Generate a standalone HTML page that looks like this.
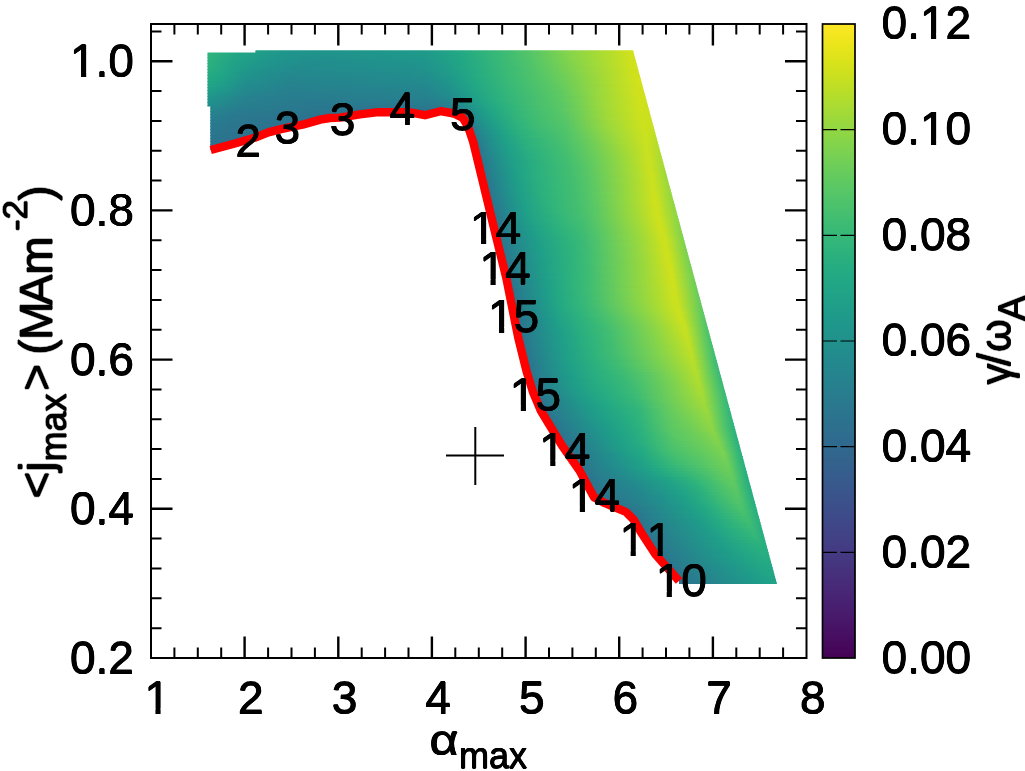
<!DOCTYPE html>
<html><head><meta charset="utf-8"><title>plot</title><style>html,body{margin:0;padding:0;background:#fff}svg{display:block}</style></head><body><svg width="1025" height="771" viewBox="0 0 1025 771">
<defs><linearGradient id="g0" gradientUnits="userSpaceOnUse" x1="251" x2="638" y1="0" y2="0"><stop offset="0.000" stop-color="#1fa187"/><stop offset="0.140" stop-color="#1f948c"/><stop offset="0.442" stop-color="#1e9b8a"/><stop offset="0.543" stop-color="#24aa83"/><stop offset="0.636" stop-color="#38b977"/><stop offset="0.698" stop-color="#4cc26c"/><stop offset="0.744" stop-color="#60ca60"/><stop offset="0.814" stop-color="#84d44b"/><stop offset="0.860" stop-color="#98d83e"/><stop offset="0.930" stop-color="#b8de29"/><stop offset="0.984" stop-color="#d5e21a"/><stop offset="1.000" stop-color="#d2e21b"/></linearGradient><linearGradient id="g1" gradientUnits="userSpaceOnUse" x1="203" x2="638" y1="0" y2="0"><stop offset="0.000" stop-color="#34b679"/><stop offset="0.076" stop-color="#21a685"/><stop offset="0.200" stop-color="#1f948c"/><stop offset="0.352" stop-color="#1f948c"/><stop offset="0.510" stop-color="#1f9a8a"/><stop offset="0.593" stop-color="#23a983"/><stop offset="0.690" stop-color="#3bbb75"/><stop offset="0.766" stop-color="#5ac864"/><stop offset="0.828" stop-color="#7fd34e"/><stop offset="0.945" stop-color="#bade28"/><stop offset="0.986" stop-color="#d2e21b"/><stop offset="1.000" stop-color="#d0e11c"/></linearGradient><linearGradient id="g2" gradientUnits="userSpaceOnUse" x1="203" x2="639" y1="0" y2="0"><stop offset="0.000" stop-color="#32b67a"/><stop offset="0.076" stop-color="#21a585"/><stop offset="0.158" stop-color="#1f978b"/><stop offset="0.255" stop-color="#21918c"/><stop offset="0.516" stop-color="#1f998a"/><stop offset="0.592" stop-color="#22a884"/><stop offset="0.681" stop-color="#38b977"/><stop offset="0.757" stop-color="#56c667"/><stop offset="0.853" stop-color="#8bd646"/><stop offset="0.915" stop-color="#aadc32"/><stop offset="0.984" stop-color="#d2e21b"/><stop offset="0.998" stop-color="#d0e11c"/></linearGradient><linearGradient id="g3" gradientUnits="userSpaceOnUse" x1="203" x2="640" y1="0" y2="0"><stop offset="0.000" stop-color="#31b57b"/><stop offset="0.076" stop-color="#20a386"/><stop offset="0.172" stop-color="#1f948c"/><stop offset="0.247" stop-color="#218f8d"/><stop offset="0.508" stop-color="#1f978b"/><stop offset="0.590" stop-color="#22a785"/><stop offset="0.666" stop-color="#34b679"/><stop offset="0.741" stop-color="#4ec36b"/><stop offset="0.789" stop-color="#67cc5c"/><stop offset="0.844" stop-color="#86d549"/><stop offset="0.941" stop-color="#b8de29"/><stop offset="0.982" stop-color="#d0e11c"/><stop offset="0.995" stop-color="#d0e11c"/></linearGradient><linearGradient id="g4" gradientUnits="userSpaceOnUse" x1="203" x2="641" y1="0" y2="0"><stop offset="0.000" stop-color="#2fb47c"/><stop offset="0.068" stop-color="#20a386"/><stop offset="0.151" stop-color="#1f948c"/><stop offset="0.253" stop-color="#218e8d"/><stop offset="0.507" stop-color="#1f958b"/><stop offset="0.589" stop-color="#21a685"/><stop offset="0.678" stop-color="#37b878"/><stop offset="0.747" stop-color="#50c46a"/><stop offset="0.795" stop-color="#69cd5b"/><stop offset="0.856" stop-color="#8bd646"/><stop offset="0.925" stop-color="#b0dd2f"/><stop offset="0.966" stop-color="#c8e020"/><stop offset="0.979" stop-color="#d0e11c"/><stop offset="1.000" stop-color="#d0e11c"/></linearGradient><linearGradient id="g5" gradientUnits="userSpaceOnUse" x1="203" x2="642" y1="0" y2="0"><stop offset="0.000" stop-color="#2eb37c"/><stop offset="0.075" stop-color="#1fa088"/><stop offset="0.164" stop-color="#20928c"/><stop offset="0.253" stop-color="#228c8d"/><stop offset="0.513" stop-color="#1f948c"/><stop offset="0.588" stop-color="#21a585"/><stop offset="0.663" stop-color="#32b67a"/><stop offset="0.738" stop-color="#4cc26c"/><stop offset="0.793" stop-color="#67cc5c"/><stop offset="0.895" stop-color="#a0da39"/><stop offset="0.977" stop-color="#d0e11c"/><stop offset="0.984" stop-color="#d2e21b"/><stop offset="0.998" stop-color="#d0e11c"/></linearGradient><linearGradient id="g6" gradientUnits="userSpaceOnUse" x1="203" x2="643" y1="0" y2="0"><stop offset="0.000" stop-color="#2cb17e"/><stop offset="0.048" stop-color="#22a785"/><stop offset="0.102" stop-color="#1f988b"/><stop offset="0.205" stop-color="#228c8d"/><stop offset="0.484" stop-color="#21918c"/><stop offset="0.545" stop-color="#1f9a8a"/><stop offset="0.607" stop-color="#24aa83"/><stop offset="0.716" stop-color="#42be71"/><stop offset="0.777" stop-color="#5ec962"/><stop offset="0.900" stop-color="#a2da37"/><stop offset="0.982" stop-color="#d2e21b"/><stop offset="0.995" stop-color="#d0e11c"/></linearGradient><linearGradient id="g7" gradientUnits="userSpaceOnUse" x1="203" x2="643" y1="0" y2="0"><stop offset="0.000" stop-color="#2ab07f"/><stop offset="0.048" stop-color="#21a585"/><stop offset="0.109" stop-color="#1f948c"/><stop offset="0.225" stop-color="#23898e"/><stop offset="0.505" stop-color="#21918c"/><stop offset="0.573" stop-color="#1fa088"/><stop offset="0.634" stop-color="#29af7f"/><stop offset="0.723" stop-color="#44bf70"/><stop offset="0.777" stop-color="#5cc863"/><stop offset="0.866" stop-color="#8ed645"/><stop offset="0.961" stop-color="#c5e021"/><stop offset="0.982" stop-color="#d0e11c"/><stop offset="0.995" stop-color="#d0e11c"/></linearGradient><linearGradient id="g8" gradientUnits="userSpaceOnUse" x1="203" x2="644" y1="0" y2="0"><stop offset="0.000" stop-color="#28ae80"/><stop offset="0.041" stop-color="#21a685"/><stop offset="0.095" stop-color="#1f958b"/><stop offset="0.190" stop-color="#23898e"/><stop offset="0.395" stop-color="#228b8d"/><stop offset="0.517" stop-color="#21918c"/><stop offset="0.592" stop-color="#20a486"/><stop offset="0.680" stop-color="#37b878"/><stop offset="0.762" stop-color="#54c568"/><stop offset="0.816" stop-color="#70cf57"/><stop offset="0.973" stop-color="#cde11d"/><stop offset="1.000" stop-color="#d0e11c"/></linearGradient><linearGradient id="g9" gradientUnits="userSpaceOnUse" x1="203" x2="645" y1="0" y2="0"><stop offset="0.000" stop-color="#26ad81"/><stop offset="0.041" stop-color="#20a486"/><stop offset="0.102" stop-color="#20928c"/><stop offset="0.197" stop-color="#24878e"/><stop offset="0.428" stop-color="#238a8d"/><stop offset="0.509" stop-color="#218f8d"/><stop offset="0.570" stop-color="#1e9d89"/><stop offset="0.624" stop-color="#26ad81"/><stop offset="0.733" stop-color="#48c16e"/><stop offset="0.808" stop-color="#69cd5b"/><stop offset="0.937" stop-color="#b8de29"/><stop offset="0.977" stop-color="#d0e11c"/><stop offset="0.998" stop-color="#d0e11c"/></linearGradient><linearGradient id="g10" gradientUnits="userSpaceOnUse" x1="203" x2="646" y1="0" y2="0"><stop offset="0.000" stop-color="#25ab82"/><stop offset="0.041" stop-color="#1fa287"/><stop offset="0.095" stop-color="#21918c"/><stop offset="0.196" stop-color="#25858e"/><stop offset="0.501" stop-color="#228c8d"/><stop offset="0.555" stop-color="#1f978b"/><stop offset="0.609" stop-color="#22a884"/><stop offset="0.698" stop-color="#3bbb75"/><stop offset="0.779" stop-color="#5ac864"/><stop offset="0.833" stop-color="#77d153"/><stop offset="0.948" stop-color="#c0df25"/><stop offset="0.982" stop-color="#d2e21b"/><stop offset="0.995" stop-color="#d0e11c"/></linearGradient><linearGradient id="g11" gradientUnits="userSpaceOnUse" x1="203" x2="647" y1="0" y2="0"><stop offset="0.000" stop-color="#23a983"/><stop offset="0.041" stop-color="#1fa088"/><stop offset="0.101" stop-color="#228d8d"/><stop offset="0.209" stop-color="#25838e"/><stop offset="0.500" stop-color="#238a8d"/><stop offset="0.554" stop-color="#1f958b"/><stop offset="0.608" stop-color="#22a785"/><stop offset="0.703" stop-color="#3dbc74"/><stop offset="0.777" stop-color="#58c765"/><stop offset="0.831" stop-color="#75d054"/><stop offset="0.912" stop-color="#aadc32"/><stop offset="0.980" stop-color="#d2e21b"/><stop offset="1.000" stop-color="#d0e11c"/></linearGradient><linearGradient id="g12" gradientUnits="userSpaceOnUse" x1="203" x2="647" y1="0" y2="0"><stop offset="0.000" stop-color="#21a685"/><stop offset="0.041" stop-color="#1f9e89"/><stop offset="0.101" stop-color="#228b8d"/><stop offset="0.209" stop-color="#26828e"/><stop offset="0.500" stop-color="#23888e"/><stop offset="0.554" stop-color="#20938c"/><stop offset="0.608" stop-color="#21a685"/><stop offset="0.696" stop-color="#3aba76"/><stop offset="0.770" stop-color="#54c568"/><stop offset="0.811" stop-color="#67cc5c"/><stop offset="0.939" stop-color="#bade28"/><stop offset="0.980" stop-color="#d0e11c"/><stop offset="1.000" stop-color="#cde11d"/></linearGradient><linearGradient id="g13" gradientUnits="userSpaceOnUse" x1="203" x2="648" y1="0" y2="0"><stop offset="0.000" stop-color="#20a386"/><stop offset="0.047" stop-color="#1f998a"/><stop offset="0.088" stop-color="#228b8d"/><stop offset="0.189" stop-color="#26818e"/><stop offset="0.499" stop-color="#24868e"/><stop offset="0.553" stop-color="#20928c"/><stop offset="0.600" stop-color="#1fa287"/><stop offset="0.674" stop-color="#32b67a"/><stop offset="0.789" stop-color="#5ac864"/><stop offset="0.849" stop-color="#7fd34e"/><stop offset="0.897" stop-color="#a0da39"/><stop offset="0.971" stop-color="#cde11d"/><stop offset="0.984" stop-color="#d0e11c"/><stop offset="0.998" stop-color="#cde11d"/></linearGradient><linearGradient id="g14" gradientUnits="userSpaceOnUse" x1="203" x2="649" y1="0" y2="0"><stop offset="0.000" stop-color="#1fa088"/><stop offset="0.040" stop-color="#1f988b"/><stop offset="0.094" stop-color="#24878e"/><stop offset="0.202" stop-color="#277f8e"/><stop offset="0.498" stop-color="#25848e"/><stop offset="0.552" stop-color="#218f8d"/><stop offset="0.605" stop-color="#20a386"/><stop offset="0.686" stop-color="#35b779"/><stop offset="0.800" stop-color="#5ec962"/><stop offset="0.881" stop-color="#95d840"/><stop offset="0.942" stop-color="#bddf26"/><stop offset="0.975" stop-color="#d0e11c"/><stop offset="0.996" stop-color="#cde11d"/></linearGradient><linearGradient id="g15" gradientUnits="userSpaceOnUse" x1="203" x2="650" y1="0" y2="0"><stop offset="0.000" stop-color="#1e9d89"/><stop offset="0.060" stop-color="#218e8d"/><stop offset="0.114" stop-color="#26828e"/><stop offset="0.221" stop-color="#287d8e"/><stop offset="0.503" stop-color="#25838e"/><stop offset="0.557" stop-color="#218f8d"/><stop offset="0.604" stop-color="#1fa187"/><stop offset="0.671" stop-color="#2fb47c"/><stop offset="0.792" stop-color="#5ac864"/><stop offset="0.839" stop-color="#77d153"/><stop offset="0.879" stop-color="#95d840"/><stop offset="0.973" stop-color="#d0e11c"/><stop offset="1.000" stop-color="#cde11d"/></linearGradient><linearGradient id="g16" gradientUnits="userSpaceOnUse" x1="203" x2="651" y1="0" y2="0"><stop offset="0.000" stop-color="#1f998a"/><stop offset="0.094" stop-color="#26828e"/><stop offset="0.208" stop-color="#287c8e"/><stop offset="0.496" stop-color="#26818e"/><stop offset="0.549" stop-color="#238a8d"/><stop offset="0.603" stop-color="#1fa088"/><stop offset="0.656" stop-color="#2ab07f"/><stop offset="0.777" stop-color="#54c568"/><stop offset="0.817" stop-color="#67cc5c"/><stop offset="0.897" stop-color="#a2da37"/><stop offset="0.964" stop-color="#cae11f"/><stop offset="0.978" stop-color="#d0e11c"/><stop offset="0.998" stop-color="#cde11d"/></linearGradient><linearGradient id="g17" gradientUnits="userSpaceOnUse" x1="203" x2="651" y1="0" y2="0"><stop offset="0.000" stop-color="#1f958b"/><stop offset="0.094" stop-color="#26818e"/><stop offset="0.221" stop-color="#297a8e"/><stop offset="0.502" stop-color="#277f8e"/><stop offset="0.549" stop-color="#24868e"/><stop offset="0.609" stop-color="#1fa088"/><stop offset="0.663" stop-color="#2cb17e"/><stop offset="0.790" stop-color="#58c765"/><stop offset="0.830" stop-color="#70cf57"/><stop offset="0.884" stop-color="#98d83e"/><stop offset="0.904" stop-color="#a5db36"/><stop offset="0.971" stop-color="#cde11d"/><stop offset="0.978" stop-color="#d0e11c"/><stop offset="0.998" stop-color="#cae11f"/></linearGradient><linearGradient id="g18" gradientUnits="userSpaceOnUse" x1="203" x2="652" y1="0" y2="0"><stop offset="0.000" stop-color="#20928c"/><stop offset="0.100" stop-color="#277e8e"/><stop offset="0.234" stop-color="#29798e"/><stop offset="0.501" stop-color="#287c8e"/><stop offset="0.548" stop-color="#26828e"/><stop offset="0.608" stop-color="#1f9e89"/><stop offset="0.648" stop-color="#25ac82"/><stop offset="0.735" stop-color="#44bf70"/><stop offset="0.802" stop-color="#5cc863"/><stop offset="0.849" stop-color="#7cd250"/><stop offset="0.869" stop-color="#8ed645"/><stop offset="0.895" stop-color="#a0da39"/><stop offset="0.955" stop-color="#c5e021"/><stop offset="0.976" stop-color="#d0e11c"/><stop offset="0.996" stop-color="#cae11f"/></linearGradient><linearGradient id="g19" gradientUnits="userSpaceOnUse" x1="203" x2="653" y1="0" y2="0"><stop offset="0.000" stop-color="#218e8d"/><stop offset="0.087" stop-color="#277e8e"/><stop offset="0.227" stop-color="#2a788e"/><stop offset="0.380" stop-color="#2a778e"/><stop offset="0.533" stop-color="#297b8e"/><stop offset="0.567" stop-color="#24868e"/><stop offset="0.613" stop-color="#1f9e89"/><stop offset="0.667" stop-color="#2ab07f"/><stop offset="0.760" stop-color="#4cc26c"/><stop offset="0.807" stop-color="#5ec962"/><stop offset="0.893" stop-color="#a0da39"/><stop offset="0.967" stop-color="#cde11d"/><stop offset="0.973" stop-color="#d0e11c"/><stop offset="0.993" stop-color="#cae11f"/><stop offset="1.000" stop-color="#cae11f"/></linearGradient><linearGradient id="g20" gradientUnits="userSpaceOnUse" x1="206" x2="654" y1="0" y2="0"><stop offset="0.000" stop-color="#23898e"/><stop offset="0.074" stop-color="#287c8e"/><stop offset="0.254" stop-color="#2a778e"/><stop offset="0.375" stop-color="#2c738e"/><stop offset="0.469" stop-color="#2b748e"/><stop offset="0.529" stop-color="#2b758e"/><stop offset="0.562" stop-color="#26818e"/><stop offset="0.609" stop-color="#1e9b8a"/><stop offset="0.650" stop-color="#25ab82"/><stop offset="0.730" stop-color="#42be71"/><stop offset="0.783" stop-color="#54c568"/><stop offset="0.830" stop-color="#70cf57"/><stop offset="0.877" stop-color="#95d840"/><stop offset="0.938" stop-color="#bddf26"/><stop offset="0.964" stop-color="#cae11f"/><stop offset="0.971" stop-color="#d0e11c"/><stop offset="0.998" stop-color="#c8e020"/></linearGradient><linearGradient id="g21" gradientUnits="userSpaceOnUse" x1="206" x2="655" y1="0" y2="0"><stop offset="0.000" stop-color="#25858e"/><stop offset="0.080" stop-color="#297a8e"/><stop offset="0.334" stop-color="#2c718e"/><stop offset="0.414" stop-color="#2e6e8e"/><stop offset="0.474" stop-color="#2d708e"/><stop offset="0.501" stop-color="#2d708e"/><stop offset="0.541" stop-color="#2d718e"/><stop offset="0.575" stop-color="#25838e"/><stop offset="0.621" stop-color="#1f9f88"/><stop offset="0.668" stop-color="#2ab07f"/><stop offset="0.762" stop-color="#4cc26c"/><stop offset="0.795" stop-color="#58c765"/><stop offset="0.829" stop-color="#6ece58"/><stop offset="0.895" stop-color="#a2da37"/><stop offset="0.962" stop-color="#cae11f"/><stop offset="0.976" stop-color="#cde11d"/><stop offset="0.996" stop-color="#c8e020"/></linearGradient><linearGradient id="g22" gradientUnits="userSpaceOnUse" x1="206" x2="655" y1="0" y2="0"><stop offset="0.000" stop-color="#26828e"/><stop offset="0.067" stop-color="#29798e"/><stop offset="0.267" stop-color="#2c728e"/><stop offset="0.334" stop-color="#2e6e8e"/><stop offset="0.434" stop-color="#2d708e"/><stop offset="0.494" stop-color="#2e6d8e"/><stop offset="0.535" stop-color="#2c718e"/><stop offset="0.561" stop-color="#2c728e"/><stop offset="0.608" stop-color="#1f958b"/><stop offset="0.641" stop-color="#21a585"/><stop offset="0.708" stop-color="#38b977"/><stop offset="0.795" stop-color="#56c667"/><stop offset="0.849" stop-color="#7cd250"/><stop offset="0.875" stop-color="#93d741"/><stop offset="0.949" stop-color="#c2df23"/><stop offset="0.969" stop-color="#cde11d"/><stop offset="0.996" stop-color="#c8e020"/></linearGradient><linearGradient id="g23" gradientUnits="userSpaceOnUse" x1="206" x2="656" y1="0" y2="0"><stop offset="0.000" stop-color="#27808e"/><stop offset="0.060" stop-color="#2a788e"/><stop offset="0.227" stop-color="#2c728e"/><stop offset="0.273" stop-color="#2e6e8e"/><stop offset="0.413" stop-color="#2d718e"/><stop offset="0.527" stop-color="#2d718e"/><stop offset="0.573" stop-color="#2a778e"/><stop offset="0.607" stop-color="#20928c"/><stop offset="0.640" stop-color="#20a386"/><stop offset="0.700" stop-color="#34b679"/><stop offset="0.733" stop-color="#40bd72"/><stop offset="0.800" stop-color="#58c765"/><stop offset="0.893" stop-color="#a0da39"/><stop offset="0.967" stop-color="#cde11d"/><stop offset="1.000" stop-color="#c5e021"/></linearGradient><linearGradient id="g24" gradientUnits="userSpaceOnUse" x1="206" x2="657" y1="0" y2="0"><stop offset="0.000" stop-color="#277e8e"/><stop offset="0.060" stop-color="#2a778e"/><stop offset="0.200" stop-color="#2c728e"/><stop offset="0.246" stop-color="#2e6e8e"/><stop offset="0.333" stop-color="#2c718e"/><stop offset="0.532" stop-color="#2d708e"/><stop offset="0.572" stop-color="#2c738e"/><stop offset="0.605" stop-color="#21908d"/><stop offset="0.639" stop-color="#1fa187"/><stop offset="0.692" stop-color="#2fb47c"/><stop offset="0.745" stop-color="#44bf70"/><stop offset="0.798" stop-color="#56c667"/><stop offset="0.898" stop-color="#a2da37"/><stop offset="0.965" stop-color="#cae11f"/><stop offset="0.971" stop-color="#cde11d"/><stop offset="0.998" stop-color="#c5e021"/></linearGradient><linearGradient id="g25" gradientUnits="userSpaceOnUse" x1="206" x2="658" y1="0" y2="0"><stop offset="0.000" stop-color="#287c8e"/><stop offset="0.053" stop-color="#2a768e"/><stop offset="0.159" stop-color="#2c738e"/><stop offset="0.219" stop-color="#2e6d8e"/><stop offset="0.272" stop-color="#2c728e"/><stop offset="0.538" stop-color="#2e6f8e"/><stop offset="0.577" stop-color="#2c728e"/><stop offset="0.597" stop-color="#24878e"/><stop offset="0.631" stop-color="#1e9c89"/><stop offset="0.670" stop-color="#26ad81"/><stop offset="0.737" stop-color="#40bd72"/><stop offset="0.796" stop-color="#54c568"/><stop offset="0.896" stop-color="#a0da39"/><stop offset="0.962" stop-color="#cae11f"/><stop offset="0.969" stop-color="#cde11d"/><stop offset="0.996" stop-color="#c5e021"/></linearGradient><linearGradient id="g26" gradientUnits="userSpaceOnUse" x1="206" x2="659" y1="0" y2="0"><stop offset="0.000" stop-color="#297a8e"/><stop offset="0.066" stop-color="#2b758e"/><stop offset="0.146" stop-color="#2c728e"/><stop offset="0.185" stop-color="#2e6d8e"/><stop offset="0.265" stop-color="#2c728e"/><stop offset="0.530" stop-color="#2e6d8e"/><stop offset="0.576" stop-color="#2c718e"/><stop offset="0.616" stop-color="#20928c"/><stop offset="0.649" stop-color="#20a386"/><stop offset="0.695" stop-color="#2fb47c"/><stop offset="0.735" stop-color="#3fbc73"/><stop offset="0.795" stop-color="#52c569"/><stop offset="0.861" stop-color="#84d44b"/><stop offset="0.881" stop-color="#95d840"/><stop offset="0.940" stop-color="#bddf26"/><stop offset="0.967" stop-color="#cde11d"/><stop offset="0.993" stop-color="#c2df23"/><stop offset="1.000" stop-color="#c2df23"/></linearGradient><linearGradient id="g27" gradientUnits="userSpaceOnUse" x1="206" x2="660" y1="0" y2="0"><stop offset="0.000" stop-color="#29798e"/><stop offset="0.066" stop-color="#2b758e"/><stop offset="0.132" stop-color="#2d718e"/><stop offset="0.159" stop-color="#2e6e8e"/><stop offset="0.258" stop-color="#2c738e"/><stop offset="0.529" stop-color="#2f6c8e"/><stop offset="0.581" stop-color="#2c728e"/><stop offset="0.608" stop-color="#228b8d"/><stop offset="0.648" stop-color="#1fa187"/><stop offset="0.687" stop-color="#2ab07f"/><stop offset="0.740" stop-color="#3fbc73"/><stop offset="0.793" stop-color="#50c46a"/><stop offset="0.866" stop-color="#86d549"/><stop offset="0.879" stop-color="#93d741"/><stop offset="0.925" stop-color="#b2dd2d"/><stop offset="0.965" stop-color="#cde11d"/><stop offset="0.991" stop-color="#c0df25"/><stop offset="0.998" stop-color="#c0df25"/></linearGradient><linearGradient id="g28" gradientUnits="userSpaceOnUse" x1="206" x2="660" y1="0" y2="0"><stop offset="0.000" stop-color="#2a778e"/><stop offset="0.112" stop-color="#2c718e"/><stop offset="0.132" stop-color="#2e6d8e"/><stop offset="0.185" stop-color="#2c728e"/><stop offset="0.324" stop-color="#2d718e"/><stop offset="0.529" stop-color="#306a8e"/><stop offset="0.581" stop-color="#2d708e"/><stop offset="0.608" stop-color="#23898e"/><stop offset="0.648" stop-color="#1fa088"/><stop offset="0.694" stop-color="#2cb17e"/><stop offset="0.753" stop-color="#40bd72"/><stop offset="0.786" stop-color="#4cc26c"/><stop offset="0.800" stop-color="#52c569"/><stop offset="0.899" stop-color="#9dd93b"/><stop offset="0.965" stop-color="#cae11f"/><stop offset="0.971" stop-color="#cae11f"/><stop offset="0.991" stop-color="#bddf26"/><stop offset="0.998" stop-color="#bddf26"/></linearGradient><linearGradient id="g29" gradientUnits="userSpaceOnUse" x1="206" x2="661" y1="0" y2="0"><stop offset="0.000" stop-color="#2a768e"/><stop offset="0.105" stop-color="#2d708e"/><stop offset="0.125" stop-color="#2d708e"/><stop offset="0.191" stop-color="#2c738e"/><stop offset="0.527" stop-color="#30698e"/><stop offset="0.580" stop-color="#2d708e"/><stop offset="0.620" stop-color="#218f8d"/><stop offset="0.659" stop-color="#20a386"/><stop offset="0.712" stop-color="#32b67a"/><stop offset="0.785" stop-color="#4ac16d"/><stop offset="0.824" stop-color="#63cb5f"/><stop offset="0.910" stop-color="#a5db36"/><stop offset="0.930" stop-color="#b2dd2d"/><stop offset="0.963" stop-color="#cae11f"/><stop offset="0.969" stop-color="#cae11f"/><stop offset="0.989" stop-color="#bade28"/><stop offset="0.996" stop-color="#bade28"/></linearGradient><linearGradient id="g30" gradientUnits="userSpaceOnUse" x1="206" x2="662" y1="0" y2="0"><stop offset="0.000" stop-color="#2b758e"/><stop offset="0.086" stop-color="#2e6f8e"/><stop offset="0.112" stop-color="#2d718e"/><stop offset="0.184" stop-color="#2b748e"/><stop offset="0.520" stop-color="#31678e"/><stop offset="0.586" stop-color="#2d718e"/><stop offset="0.605" stop-color="#25838e"/><stop offset="0.645" stop-color="#1e9c89"/><stop offset="0.691" stop-color="#28ae80"/><stop offset="0.757" stop-color="#3fbc73"/><stop offset="0.789" stop-color="#4cc26c"/><stop offset="0.829" stop-color="#65cb5e"/><stop offset="0.908" stop-color="#a2da37"/><stop offset="0.928" stop-color="#b0dd2f"/><stop offset="0.947" stop-color="#c0df25"/><stop offset="0.967" stop-color="#cae11f"/><stop offset="0.987" stop-color="#bade28"/><stop offset="1.000" stop-color="#b8de29"/></linearGradient><linearGradient id="g31" gradientUnits="userSpaceOnUse" x1="206" x2="663" y1="0" y2="0"><stop offset="0.000" stop-color="#2b748e"/><stop offset="0.072" stop-color="#2e6d8e"/><stop offset="0.138" stop-color="#2b748e"/><stop offset="0.309" stop-color="#2e6f8e"/><stop offset="0.512" stop-color="#31668e"/><stop offset="0.584" stop-color="#2e6f8e"/><stop offset="0.617" stop-color="#228b8d"/><stop offset="0.656" stop-color="#1fa188"/><stop offset="0.709" stop-color="#2eb37c"/><stop offset="0.781" stop-color="#46c06f"/><stop offset="0.840" stop-color="#6ccd5a"/><stop offset="0.912" stop-color="#a5db36"/><stop offset="0.932" stop-color="#b2dd2d"/><stop offset="0.958" stop-color="#c8e020"/><stop offset="0.965" stop-color="#cae11f"/><stop offset="0.991" stop-color="#b2dd2d"/><stop offset="0.998" stop-color="#b2dd2d"/></linearGradient><linearGradient id="g32" gradientUnits="userSpaceOnUse" x1="206" x2="664" y1="0" y2="0"><stop offset="0.000" stop-color="#2c728e"/><stop offset="0.052" stop-color="#2e6e8e"/><stop offset="0.111" stop-color="#2b748e"/><stop offset="0.282" stop-color="#2d708e"/><stop offset="0.498" stop-color="#32658e"/><stop offset="0.544" stop-color="#31688e"/><stop offset="0.576" stop-color="#2e6f8e"/><stop offset="0.583" stop-color="#2e6f8e"/><stop offset="0.622" stop-color="#228d8d"/><stop offset="0.662" stop-color="#1fa287"/><stop offset="0.714" stop-color="#2fb47c"/><stop offset="0.786" stop-color="#48c16e"/><stop offset="0.845" stop-color="#6ece58"/><stop offset="0.924" stop-color="#addc30"/><stop offset="0.943" stop-color="#bade28"/><stop offset="0.963" stop-color="#cae11f"/><stop offset="0.989" stop-color="#b0dd2f"/><stop offset="0.996" stop-color="#b0dd2f"/></linearGradient><linearGradient id="g33" gradientUnits="userSpaceOnUse" x1="206" x2="664" y1="0" y2="0"><stop offset="0.000" stop-color="#2d718e"/><stop offset="0.026" stop-color="#2e6d8e"/><stop offset="0.092" stop-color="#2b748e"/><stop offset="0.249" stop-color="#2d718e"/><stop offset="0.491" stop-color="#32648e"/><stop offset="0.544" stop-color="#31688e"/><stop offset="0.590" stop-color="#2c718e"/><stop offset="0.622" stop-color="#228c8d"/><stop offset="0.662" stop-color="#1fa188"/><stop offset="0.707" stop-color="#2cb17e"/><stop offset="0.773" stop-color="#40bd72"/><stop offset="0.825" stop-color="#5ec962"/><stop offset="0.943" stop-color="#bade28"/><stop offset="0.963" stop-color="#cae11f"/><stop offset="0.989" stop-color="#b0dd2f"/><stop offset="0.996" stop-color="#addc30"/></linearGradient><linearGradient id="g34" gradientUnits="userSpaceOnUse" x1="471" x2="665" y1="0" y2="0"><stop offset="0.000" stop-color="#2e6f8e"/><stop offset="0.031" stop-color="#2c718e"/><stop offset="0.093" stop-color="#24878e"/><stop offset="0.186" stop-color="#1f9e89"/><stop offset="0.309" stop-color="#2ab07f"/><stop offset="0.495" stop-color="#46c06f"/><stop offset="0.649" stop-color="#70cf57"/><stop offset="0.912" stop-color="#cae11f"/><stop offset="0.974" stop-color="#addc30"/><stop offset="0.990" stop-color="#aadc32"/></linearGradient><linearGradient id="g35" gradientUnits="userSpaceOnUse" x1="471" x2="666" y1="0" y2="0"><stop offset="0.000" stop-color="#2e6f8e"/><stop offset="0.031" stop-color="#2d708e"/><stop offset="0.077" stop-color="#26828e"/><stop offset="0.185" stop-color="#1e9c89"/><stop offset="0.292" stop-color="#27ad81"/><stop offset="0.492" stop-color="#44bf70"/><stop offset="0.646" stop-color="#6ece58"/><stop offset="0.846" stop-color="#b2dd2d"/><stop offset="0.892" stop-color="#c5e021"/><stop offset="0.908" stop-color="#cae11f"/><stop offset="0.954" stop-color="#b5de2b"/><stop offset="0.969" stop-color="#addc30"/><stop offset="1.000" stop-color="#aadc32"/></linearGradient><linearGradient id="g36" gradientUnits="userSpaceOnUse" x1="472" x2="667" y1="0" y2="0"><stop offset="0.000" stop-color="#2e6f8e"/><stop offset="0.031" stop-color="#2d718e"/><stop offset="0.092" stop-color="#25858e"/><stop offset="0.200" stop-color="#1f9f88"/><stop offset="0.323" stop-color="#2cb17e"/><stop offset="0.492" stop-color="#44bf70"/><stop offset="0.646" stop-color="#6ece58"/><stop offset="0.800" stop-color="#a2da37"/><stop offset="0.862" stop-color="#bade28"/><stop offset="0.908" stop-color="#cae11f"/><stop offset="0.969" stop-color="#aadc32"/><stop offset="1.000" stop-color="#a8db34"/></linearGradient><linearGradient id="g37" gradientUnits="userSpaceOnUse" x1="473" x2="668" y1="0" y2="0"><stop offset="0.000" stop-color="#2e6f8e"/><stop offset="0.031" stop-color="#2c718e"/><stop offset="0.123" stop-color="#218e8d"/><stop offset="0.215" stop-color="#1fa287"/><stop offset="0.385" stop-color="#34b679"/><stop offset="0.508" stop-color="#48c16e"/><stop offset="0.631" stop-color="#69cd5b"/><stop offset="0.754" stop-color="#93d741"/><stop offset="0.831" stop-color="#b0dd2f"/><stop offset="0.892" stop-color="#c8e020"/><stop offset="0.908" stop-color="#cae11f"/><stop offset="0.969" stop-color="#a8db34"/><stop offset="1.000" stop-color="#a5db36"/></linearGradient><linearGradient id="g38" gradientUnits="userSpaceOnUse" x1="474" x2="668" y1="0" y2="0"><stop offset="0.000" stop-color="#2e6f8e"/><stop offset="0.031" stop-color="#2c718e"/><stop offset="0.124" stop-color="#218e8d"/><stop offset="0.216" stop-color="#1fa287"/><stop offset="0.387" stop-color="#34b679"/><stop offset="0.510" stop-color="#48c16e"/><stop offset="0.634" stop-color="#69cd5b"/><stop offset="0.727" stop-color="#89d548"/><stop offset="0.820" stop-color="#aadc32"/><stop offset="0.897" stop-color="#c8e020"/><stop offset="0.912" stop-color="#c8e020"/><stop offset="0.974" stop-color="#a5db36"/><stop offset="0.990" stop-color="#a2da37"/></linearGradient><linearGradient id="g39" gradientUnits="userSpaceOnUse" x1="474" x2="669" y1="0" y2="0"><stop offset="0.000" stop-color="#2e6f8e"/><stop offset="0.031" stop-color="#2d708e"/><stop offset="0.092" stop-color="#25848e"/><stop offset="0.200" stop-color="#1f9f88"/><stop offset="0.308" stop-color="#29af7f"/><stop offset="0.477" stop-color="#40bd72"/><stop offset="0.585" stop-color="#5ac864"/><stop offset="0.785" stop-color="#9dd93b"/><stop offset="0.846" stop-color="#b5de2b"/><stop offset="0.892" stop-color="#c8e020"/><stop offset="0.908" stop-color="#cae11f"/><stop offset="0.969" stop-color="#a5db36"/><stop offset="0.985" stop-color="#a0da39"/><stop offset="1.000" stop-color="#a0da39"/></linearGradient><linearGradient id="g40" gradientUnits="userSpaceOnUse" x1="475" x2="670" y1="0" y2="0"><stop offset="0.000" stop-color="#2e6f8e"/><stop offset="0.031" stop-color="#2d718e"/><stop offset="0.123" stop-color="#228d8d"/><stop offset="0.215" stop-color="#1fa187"/><stop offset="0.338" stop-color="#2db27d"/><stop offset="0.492" stop-color="#44bf70"/><stop offset="0.569" stop-color="#56c667"/><stop offset="0.723" stop-color="#89d548"/><stop offset="0.815" stop-color="#aadc32"/><stop offset="0.892" stop-color="#c8e020"/><stop offset="0.908" stop-color="#c8e020"/><stop offset="0.969" stop-color="#a2da37"/><stop offset="0.985" stop-color="#9dd93b"/><stop offset="1.000" stop-color="#9dd93b"/></linearGradient><linearGradient id="g41" gradientUnits="userSpaceOnUse" x1="476" x2="671" y1="0" y2="0"><stop offset="0.000" stop-color="#2e6f8e"/><stop offset="0.031" stop-color="#2c718e"/><stop offset="0.108" stop-color="#23898e"/><stop offset="0.200" stop-color="#1f9f88"/><stop offset="0.323" stop-color="#2cb17e"/><stop offset="0.462" stop-color="#3fbc73"/><stop offset="0.585" stop-color="#5cc863"/><stop offset="0.677" stop-color="#7ad151"/><stop offset="0.800" stop-color="#a5db36"/><stop offset="0.862" stop-color="#bddf26"/><stop offset="0.892" stop-color="#cae11f"/><stop offset="0.908" stop-color="#c8e020"/><stop offset="0.969" stop-color="#a0da39"/><stop offset="0.985" stop-color="#9bd93c"/><stop offset="1.000" stop-color="#9bd93c"/></linearGradient><linearGradient id="g42" gradientUnits="userSpaceOnUse" x1="476" x2="672" y1="0" y2="0"><stop offset="0.000" stop-color="#2e6f8e"/><stop offset="0.031" stop-color="#2d708e"/><stop offset="0.122" stop-color="#228c8d"/><stop offset="0.214" stop-color="#1fa187"/><stop offset="0.337" stop-color="#2db27d"/><stop offset="0.490" stop-color="#44bf70"/><stop offset="0.597" stop-color="#5ec962"/><stop offset="0.811" stop-color="#aadc32"/><stop offset="0.888" stop-color="#c8e020"/><stop offset="0.903" stop-color="#cae11f"/><stop offset="0.964" stop-color="#a0da39"/><stop offset="0.980" stop-color="#98d83e"/><stop offset="0.995" stop-color="#98d83e"/></linearGradient><linearGradient id="g43" gradientUnits="userSpaceOnUse" x1="477" x2="672" y1="0" y2="0"><stop offset="0.000" stop-color="#2e6f8e"/><stop offset="0.031" stop-color="#2d718e"/><stop offset="0.108" stop-color="#23888e"/><stop offset="0.200" stop-color="#1f9f88"/><stop offset="0.323" stop-color="#2cb17e"/><stop offset="0.477" stop-color="#40bd72"/><stop offset="0.569" stop-color="#56c667"/><stop offset="0.677" stop-color="#7ad151"/><stop offset="0.800" stop-color="#a5db36"/><stop offset="0.892" stop-color="#cae11f"/><stop offset="0.908" stop-color="#c8e020"/><stop offset="0.969" stop-color="#9dd93b"/><stop offset="0.985" stop-color="#98d83e"/><stop offset="1.000" stop-color="#98d83e"/></linearGradient><linearGradient id="g44" gradientUnits="userSpaceOnUse" x1="478" x2="673" y1="0" y2="0"><stop offset="0.000" stop-color="#2d708e"/><stop offset="0.031" stop-color="#2d718e"/><stop offset="0.108" stop-color="#23888e"/><stop offset="0.200" stop-color="#1f9f88"/><stop offset="0.323" stop-color="#2cb17e"/><stop offset="0.492" stop-color="#44bf70"/><stop offset="0.615" stop-color="#65cb5e"/><stop offset="0.708" stop-color="#86d549"/><stop offset="0.831" stop-color="#b2dd2d"/><stop offset="0.877" stop-color="#c5e021"/><stop offset="0.892" stop-color="#cae11f"/><stop offset="0.908" stop-color="#c5e021"/><stop offset="0.969" stop-color="#9bd93c"/><stop offset="0.985" stop-color="#95d840"/><stop offset="1.000" stop-color="#95d840"/></linearGradient><linearGradient id="g45" gradientUnits="userSpaceOnUse" x1="479" x2="674" y1="0" y2="0"><stop offset="0.000" stop-color="#2d708e"/><stop offset="0.031" stop-color="#2c718e"/><stop offset="0.138" stop-color="#21918c"/><stop offset="0.215" stop-color="#1fa287"/><stop offset="0.338" stop-color="#2eb37c"/><stop offset="0.477" stop-color="#42be71"/><stop offset="0.585" stop-color="#5cc863"/><stop offset="0.785" stop-color="#a2da37"/><stop offset="0.892" stop-color="#cde11d"/><stop offset="0.938" stop-color="#b0dd2f"/><stop offset="0.985" stop-color="#93d741"/><stop offset="1.000" stop-color="#93d741"/></linearGradient><linearGradient id="g46" gradientUnits="userSpaceOnUse" x1="479" x2="675" y1="0" y2="0"><stop offset="0.000" stop-color="#2d708e"/><stop offset="0.031" stop-color="#2d708e"/><stop offset="0.122" stop-color="#228c8d"/><stop offset="0.214" stop-color="#1fa187"/><stop offset="0.337" stop-color="#2eb37c"/><stop offset="0.490" stop-color="#44bf70"/><stop offset="0.597" stop-color="#60ca60"/><stop offset="0.796" stop-color="#a8db34"/><stop offset="0.888" stop-color="#cde11d"/><stop offset="0.903" stop-color="#c8e020"/><stop offset="0.949" stop-color="#a5db36"/><stop offset="0.980" stop-color="#93d741"/><stop offset="0.995" stop-color="#93d741"/></linearGradient><linearGradient id="g47" gradientUnits="userSpaceOnUse" x1="480" x2="676" y1="0" y2="0"><stop offset="0.000" stop-color="#2d708e"/><stop offset="0.031" stop-color="#2d718e"/><stop offset="0.107" stop-color="#23888e"/><stop offset="0.199" stop-color="#1f9f88"/><stop offset="0.306" stop-color="#2ab07f"/><stop offset="0.474" stop-color="#42be71"/><stop offset="0.582" stop-color="#5cc863"/><stop offset="0.765" stop-color="#9dd93b"/><stop offset="0.872" stop-color="#c8e020"/><stop offset="0.888" stop-color="#cde11d"/><stop offset="0.934" stop-color="#b0dd2f"/><stop offset="0.980" stop-color="#90d743"/><stop offset="0.995" stop-color="#90d743"/></linearGradient><linearGradient id="g48" gradientUnits="userSpaceOnUse" x1="481" x2="677" y1="0" y2="0"><stop offset="0.000" stop-color="#2d708e"/><stop offset="0.031" stop-color="#2c718e"/><stop offset="0.138" stop-color="#21918c"/><stop offset="0.214" stop-color="#1fa187"/><stop offset="0.321" stop-color="#2db27d"/><stop offset="0.474" stop-color="#42be71"/><stop offset="0.536" stop-color="#50c46a"/><stop offset="0.643" stop-color="#73d056"/><stop offset="0.796" stop-color="#aadc32"/><stop offset="0.872" stop-color="#cae11f"/><stop offset="0.888" stop-color="#cde11d"/><stop offset="0.964" stop-color="#98d83e"/><stop offset="0.980" stop-color="#90d743"/><stop offset="0.995" stop-color="#90d743"/></linearGradient><linearGradient id="g49" gradientUnits="userSpaceOnUse" x1="482" x2="677" y1="0" y2="0"><stop offset="0.000" stop-color="#2d708e"/><stop offset="0.031" stop-color="#2c718e"/><stop offset="0.108" stop-color="#23898e"/><stop offset="0.200" stop-color="#1f9f88"/><stop offset="0.308" stop-color="#2ab07f"/><stop offset="0.492" stop-color="#46c06f"/><stop offset="0.585" stop-color="#5ec962"/><stop offset="0.769" stop-color="#a0da39"/><stop offset="0.877" stop-color="#cae11f"/><stop offset="0.892" stop-color="#cde11d"/><stop offset="0.938" stop-color="#aadc32"/><stop offset="0.985" stop-color="#8ed645"/><stop offset="1.000" stop-color="#8ed645"/></linearGradient><linearGradient id="g50" gradientUnits="userSpaceOnUse" x1="482" x2="678" y1="0" y2="0"><stop offset="0.000" stop-color="#2d708e"/><stop offset="0.031" stop-color="#2d718e"/><stop offset="0.092" stop-color="#25838e"/><stop offset="0.199" stop-color="#1f9e89"/><stop offset="0.306" stop-color="#2ab07f"/><stop offset="0.474" stop-color="#42be71"/><stop offset="0.536" stop-color="#50c46a"/><stop offset="0.643" stop-color="#73d056"/><stop offset="0.765" stop-color="#a0da39"/><stop offset="0.872" stop-color="#cae11f"/><stop offset="0.888" stop-color="#cde11d"/><stop offset="0.980" stop-color="#8ed645"/><stop offset="0.995" stop-color="#8ed645"/></linearGradient><linearGradient id="g51" gradientUnits="userSpaceOnUse" x1="483" x2="679" y1="0" y2="0"><stop offset="0.000" stop-color="#2d708e"/><stop offset="0.031" stop-color="#2d718e"/><stop offset="0.107" stop-color="#23888e"/><stop offset="0.199" stop-color="#1f9f88"/><stop offset="0.306" stop-color="#2ab07f"/><stop offset="0.490" stop-color="#46c06f"/><stop offset="0.582" stop-color="#5ec962"/><stop offset="0.750" stop-color="#9bd93c"/><stop offset="0.872" stop-color="#cde11d"/><stop offset="0.888" stop-color="#cde11d"/><stop offset="0.964" stop-color="#95d840"/><stop offset="0.980" stop-color="#8ed645"/><stop offset="0.995" stop-color="#8ed645"/></linearGradient><linearGradient id="g52" gradientUnits="userSpaceOnUse" x1="484" x2="680" y1="0" y2="0"><stop offset="0.000" stop-color="#2d708e"/><stop offset="0.031" stop-color="#2c718e"/><stop offset="0.122" stop-color="#228c8d"/><stop offset="0.214" stop-color="#1fa187"/><stop offset="0.321" stop-color="#2db27d"/><stop offset="0.490" stop-color="#46c06f"/><stop offset="0.566" stop-color="#5ac864"/><stop offset="0.781" stop-color="#a8db34"/><stop offset="0.872" stop-color="#cde11d"/><stop offset="0.888" stop-color="#cae11f"/><stop offset="0.964" stop-color="#93d741"/><stop offset="0.980" stop-color="#8bd646"/><stop offset="0.995" stop-color="#8bd646"/></linearGradient><linearGradient id="g53" gradientUnits="userSpaceOnUse" x1="484" x2="681" y1="0" y2="0"><stop offset="0.000" stop-color="#2d708e"/><stop offset="0.030" stop-color="#2d708e"/><stop offset="0.107" stop-color="#24878e"/><stop offset="0.198" stop-color="#1f9e89"/><stop offset="0.305" stop-color="#29af7f"/><stop offset="0.487" stop-color="#46c06f"/><stop offset="0.579" stop-color="#5ec962"/><stop offset="0.731" stop-color="#95d840"/><stop offset="0.868" stop-color="#cde11d"/><stop offset="0.883" stop-color="#cde11d"/><stop offset="0.959" stop-color="#95d840"/><stop offset="0.975" stop-color="#8bd646"/><stop offset="0.990" stop-color="#8bd646"/></linearGradient><linearGradient id="g54" gradientUnits="userSpaceOnUse" x1="485" x2="681" y1="0" y2="0"><stop offset="0.000" stop-color="#2d708e"/><stop offset="0.031" stop-color="#2d718e"/><stop offset="0.138" stop-color="#21908d"/><stop offset="0.214" stop-color="#1fa187"/><stop offset="0.352" stop-color="#31b57b"/><stop offset="0.474" stop-color="#42be71"/><stop offset="0.566" stop-color="#5ac864"/><stop offset="0.781" stop-color="#a8db34"/><stop offset="0.872" stop-color="#cde11d"/><stop offset="0.888" stop-color="#cae11f"/><stop offset="0.980" stop-color="#89d548"/><stop offset="0.995" stop-color="#89d548"/></linearGradient><linearGradient id="g55" gradientUnits="userSpaceOnUse" x1="486" x2="682" y1="0" y2="0"><stop offset="0.000" stop-color="#2d708e"/><stop offset="0.031" stop-color="#2c718e"/><stop offset="0.153" stop-color="#20938c"/><stop offset="0.230" stop-color="#20a486"/><stop offset="0.398" stop-color="#37b878"/><stop offset="0.505" stop-color="#4ac16d"/><stop offset="0.582" stop-color="#60ca60"/><stop offset="0.765" stop-color="#a2da37"/><stop offset="0.872" stop-color="#d0e11c"/><stop offset="0.918" stop-color="#b2dd2d"/><stop offset="0.980" stop-color="#89d548"/><stop offset="0.995" stop-color="#89d548"/></linearGradient><linearGradient id="g56" gradientUnits="userSpaceOnUse" x1="487" x2="683" y1="0" y2="0"><stop offset="0.000" stop-color="#2d718e"/><stop offset="0.031" stop-color="#2c718e"/><stop offset="0.153" stop-color="#1f948c"/><stop offset="0.230" stop-color="#20a486"/><stop offset="0.398" stop-color="#37b878"/><stop offset="0.505" stop-color="#4ac16d"/><stop offset="0.566" stop-color="#5cc863"/><stop offset="0.750" stop-color="#9dd93b"/><stop offset="0.872" stop-color="#d0e11c"/><stop offset="0.903" stop-color="#bddf26"/><stop offset="0.949" stop-color="#9bd93c"/><stop offset="0.980" stop-color="#86d549"/><stop offset="0.995" stop-color="#86d549"/></linearGradient><linearGradient id="g57" gradientUnits="userSpaceOnUse" x1="487" x2="684" y1="0" y2="0"><stop offset="0.000" stop-color="#2d708e"/><stop offset="0.030" stop-color="#2d708e"/><stop offset="0.107" stop-color="#24878e"/><stop offset="0.213" stop-color="#1fa088"/><stop offset="0.320" stop-color="#2ab07f"/><stop offset="0.457" stop-color="#3fbc73"/><stop offset="0.518" stop-color="#4cc26c"/><stop offset="0.731" stop-color="#95d840"/><stop offset="0.853" stop-color="#c8e020"/><stop offset="0.868" stop-color="#cde11d"/><stop offset="0.883" stop-color="#cae11f"/><stop offset="0.975" stop-color="#86d549"/><stop offset="0.990" stop-color="#86d549"/></linearGradient><linearGradient id="g58" gradientUnits="userSpaceOnUse" x1="488" x2="685" y1="0" y2="0"><stop offset="0.000" stop-color="#2d708e"/><stop offset="0.030" stop-color="#2d718e"/><stop offset="0.152" stop-color="#20928c"/><stop offset="0.244" stop-color="#21a585"/><stop offset="0.411" stop-color="#37b878"/><stop offset="0.487" stop-color="#44bf70"/><stop offset="0.594" stop-color="#65cb5e"/><stop offset="0.731" stop-color="#95d840"/><stop offset="0.822" stop-color="#bade28"/><stop offset="0.868" stop-color="#cde11d"/><stop offset="0.883" stop-color="#cae11f"/><stop offset="0.944" stop-color="#9bd93c"/><stop offset="0.975" stop-color="#84d44b"/><stop offset="0.990" stop-color="#84d44b"/></linearGradient><linearGradient id="g59" gradientUnits="userSpaceOnUse" x1="489" x2="685" y1="0" y2="0"><stop offset="0.000" stop-color="#2d708e"/><stop offset="0.031" stop-color="#2c718e"/><stop offset="0.122" stop-color="#228b8d"/><stop offset="0.230" stop-color="#1fa187"/><stop offset="0.352" stop-color="#2db27d"/><stop offset="0.474" stop-color="#40bd72"/><stop offset="0.566" stop-color="#5ac864"/><stop offset="0.750" stop-color="#9bd93c"/><stop offset="0.872" stop-color="#d0e11c"/><stop offset="0.903" stop-color="#bddf26"/><stop offset="0.980" stop-color="#81d34d"/><stop offset="0.995" stop-color="#81d34d"/></linearGradient><linearGradient id="g60" gradientUnits="userSpaceOnUse" x1="489" x2="686" y1="0" y2="0"><stop offset="0.000" stop-color="#2d708e"/><stop offset="0.030" stop-color="#2d708e"/><stop offset="0.107" stop-color="#24868e"/><stop offset="0.213" stop-color="#1f9e89"/><stop offset="0.335" stop-color="#29af7f"/><stop offset="0.472" stop-color="#3fbc73"/><stop offset="0.548" stop-color="#54c568"/><stop offset="0.731" stop-color="#93d741"/><stop offset="0.822" stop-color="#b8de29"/><stop offset="0.868" stop-color="#cde11d"/><stop offset="0.883" stop-color="#cde11d"/><stop offset="0.959" stop-color="#8ed645"/><stop offset="0.975" stop-color="#84d44b"/><stop offset="0.990" stop-color="#7fd34e"/></linearGradient><linearGradient id="g61" gradientUnits="userSpaceOnUse" x1="490" x2="687" y1="0" y2="0"><stop offset="0.000" stop-color="#2d708e"/><stop offset="0.030" stop-color="#2d708e"/><stop offset="0.091" stop-color="#26828e"/><stop offset="0.213" stop-color="#1e9d89"/><stop offset="0.320" stop-color="#27ad81"/><stop offset="0.457" stop-color="#3bbb75"/><stop offset="0.548" stop-color="#54c568"/><stop offset="0.731" stop-color="#93d741"/><stop offset="0.822" stop-color="#b8de29"/><stop offset="0.868" stop-color="#cde11d"/><stop offset="0.883" stop-color="#cae11f"/><stop offset="0.944" stop-color="#98d83e"/><stop offset="0.975" stop-color="#81d34d"/><stop offset="0.990" stop-color="#7cd250"/></linearGradient><linearGradient id="g62" gradientUnits="userSpaceOnUse" x1="491" x2="688" y1="0" y2="0"><stop offset="0.000" stop-color="#2d708e"/><stop offset="0.030" stop-color="#2d718e"/><stop offset="0.122" stop-color="#238a8d"/><stop offset="0.228" stop-color="#1fa088"/><stop offset="0.381" stop-color="#2eb37c"/><stop offset="0.472" stop-color="#3dbc74"/><stop offset="0.579" stop-color="#5ec962"/><stop offset="0.670" stop-color="#7fd34e"/><stop offset="0.746" stop-color="#98d83e"/><stop offset="0.868" stop-color="#cde11d"/><stop offset="0.883" stop-color="#cae11f"/><stop offset="0.944" stop-color="#95d840"/><stop offset="0.975" stop-color="#7fd34e"/><stop offset="0.990" stop-color="#7cd250"/></linearGradient><linearGradient id="g63" gradientUnits="userSpaceOnUse" x1="492" x2="689" y1="0" y2="0"><stop offset="0.000" stop-color="#2d708e"/><stop offset="0.030" stop-color="#2c718e"/><stop offset="0.091" stop-color="#25838e"/><stop offset="0.228" stop-color="#1f9f88"/><stop offset="0.350" stop-color="#29af7f"/><stop offset="0.472" stop-color="#3fbc73"/><stop offset="0.533" stop-color="#50c46a"/><stop offset="0.670" stop-color="#7fd34e"/><stop offset="0.731" stop-color="#93d741"/><stop offset="0.868" stop-color="#cde11d"/><stop offset="0.883" stop-color="#cae11f"/><stop offset="0.975" stop-color="#7cd250"/><stop offset="0.990" stop-color="#7ad151"/></linearGradient><linearGradient id="g64" gradientUnits="userSpaceOnUse" x1="492" x2="689" y1="0" y2="0"><stop offset="0.000" stop-color="#2d708e"/><stop offset="0.030" stop-color="#2d708e"/><stop offset="0.091" stop-color="#26828e"/><stop offset="0.228" stop-color="#1f9e89"/><stop offset="0.350" stop-color="#29af7f"/><stop offset="0.457" stop-color="#3aba76"/><stop offset="0.548" stop-color="#54c568"/><stop offset="0.731" stop-color="#93d741"/><stop offset="0.792" stop-color="#aadc32"/><stop offset="0.853" stop-color="#c5e021"/><stop offset="0.868" stop-color="#cde11d"/><stop offset="0.883" stop-color="#cde11d"/><stop offset="0.975" stop-color="#7fd34e"/><stop offset="0.990" stop-color="#7ad151"/></linearGradient><linearGradient id="g65" gradientUnits="userSpaceOnUse" x1="493" x2="690" y1="0" y2="0"><stop offset="0.000" stop-color="#2d718e"/><stop offset="0.030" stop-color="#2d718e"/><stop offset="0.107" stop-color="#24868e"/><stop offset="0.228" stop-color="#1f9e89"/><stop offset="0.350" stop-color="#29af7f"/><stop offset="0.457" stop-color="#3aba76"/><stop offset="0.563" stop-color="#5ac864"/><stop offset="0.670" stop-color="#7fd34e"/><stop offset="0.731" stop-color="#93d741"/><stop offset="0.822" stop-color="#b8de29"/><stop offset="0.868" stop-color="#cde11d"/><stop offset="0.883" stop-color="#cae11f"/><stop offset="0.975" stop-color="#7cd250"/><stop offset="0.990" stop-color="#77d153"/></linearGradient><linearGradient id="g66" gradientUnits="userSpaceOnUse" x1="494" x2="691" y1="0" y2="0"><stop offset="0.000" stop-color="#2d718e"/><stop offset="0.030" stop-color="#2c718e"/><stop offset="0.091" stop-color="#25838e"/><stop offset="0.228" stop-color="#1f9f88"/><stop offset="0.350" stop-color="#29af7f"/><stop offset="0.472" stop-color="#3fbc73"/><stop offset="0.579" stop-color="#60ca60"/><stop offset="0.701" stop-color="#89d548"/><stop offset="0.838" stop-color="#c0df25"/><stop offset="0.868" stop-color="#cde11d"/><stop offset="0.883" stop-color="#c8e020"/><stop offset="0.975" stop-color="#7ad151"/><stop offset="0.990" stop-color="#77d153"/></linearGradient><linearGradient id="g67" gradientUnits="userSpaceOnUse" x1="495" x2="692" y1="0" y2="0"><stop offset="0.000" stop-color="#2d718e"/><stop offset="0.030" stop-color="#2c718e"/><stop offset="0.076" stop-color="#27808e"/><stop offset="0.213" stop-color="#1e9c89"/><stop offset="0.335" stop-color="#27ad81"/><stop offset="0.457" stop-color="#3bbb75"/><stop offset="0.563" stop-color="#5cc863"/><stop offset="0.746" stop-color="#9bd93c"/><stop offset="0.868" stop-color="#d0e11c"/><stop offset="0.883" stop-color="#c8e020"/><stop offset="0.975" stop-color="#77d153"/><stop offset="0.990" stop-color="#75d054"/></linearGradient><linearGradient id="g68" gradientUnits="userSpaceOnUse" x1="495" x2="693" y1="0" y2="0"><stop offset="0.000" stop-color="#2d718e"/><stop offset="0.030" stop-color="#2d718e"/><stop offset="0.091" stop-color="#26828e"/><stop offset="0.227" stop-color="#1f9e89"/><stop offset="0.348" stop-color="#29af7f"/><stop offset="0.470" stop-color="#3fbc73"/><stop offset="0.636" stop-color="#75d054"/><stop offset="0.758" stop-color="#a0da39"/><stop offset="0.864" stop-color="#cde11d"/><stop offset="0.879" stop-color="#cae11f"/><stop offset="0.970" stop-color="#7ad151"/><stop offset="0.985" stop-color="#75d054"/><stop offset="1.000" stop-color="#75d054"/></linearGradient><linearGradient id="g69" gradientUnits="userSpaceOnUse" x1="496" x2="694" y1="0" y2="0"><stop offset="0.000" stop-color="#2d718e"/><stop offset="0.030" stop-color="#2d718e"/><stop offset="0.076" stop-color="#27808e"/><stop offset="0.227" stop-color="#1f9e89"/><stop offset="0.348" stop-color="#29af7f"/><stop offset="0.439" stop-color="#38b977"/><stop offset="0.545" stop-color="#58c765"/><stop offset="0.727" stop-color="#95d840"/><stop offset="0.818" stop-color="#bade28"/><stop offset="0.864" stop-color="#d0e11c"/><stop offset="0.879" stop-color="#c8e020"/><stop offset="0.970" stop-color="#7ad151"/><stop offset="0.985" stop-color="#73d056"/><stop offset="1.000" stop-color="#73d056"/></linearGradient><linearGradient id="g70" gradientUnits="userSpaceOnUse" x1="497" x2="694" y1="0" y2="0"><stop offset="0.000" stop-color="#2d718e"/><stop offset="0.030" stop-color="#2c718e"/><stop offset="0.091" stop-color="#25838e"/><stop offset="0.228" stop-color="#1f9f88"/><stop offset="0.335" stop-color="#28ae80"/><stop offset="0.457" stop-color="#3dbc74"/><stop offset="0.518" stop-color="#50c46a"/><stop offset="0.670" stop-color="#81d34d"/><stop offset="0.761" stop-color="#a2da37"/><stop offset="0.868" stop-color="#d0e11c"/><stop offset="0.898" stop-color="#b8de29"/><stop offset="0.975" stop-color="#77d153"/><stop offset="0.990" stop-color="#73d056"/></linearGradient><linearGradient id="g71" gradientUnits="userSpaceOnUse" x1="498" x2="695" y1="0" y2="0"><stop offset="0.000" stop-color="#2d718e"/><stop offset="0.030" stop-color="#2c728e"/><stop offset="0.137" stop-color="#228d8d"/><stop offset="0.244" stop-color="#1fa187"/><stop offset="0.381" stop-color="#2fb47c"/><stop offset="0.442" stop-color="#3bbb75"/><stop offset="0.533" stop-color="#56c667"/><stop offset="0.746" stop-color="#9dd93b"/><stop offset="0.853" stop-color="#cae11f"/><stop offset="0.868" stop-color="#d0e11c"/><stop offset="0.898" stop-color="#b8de29"/><stop offset="0.944" stop-color="#8ed645"/><stop offset="0.975" stop-color="#75d054"/><stop offset="0.990" stop-color="#73d056"/></linearGradient><linearGradient id="g72" gradientUnits="userSpaceOnUse" x1="498" x2="696" y1="0" y2="0"><stop offset="0.000" stop-color="#2d718e"/><stop offset="0.030" stop-color="#2d718e"/><stop offset="0.091" stop-color="#26828e"/><stop offset="0.227" stop-color="#1f9f88"/><stop offset="0.348" stop-color="#2ab07f"/><stop offset="0.439" stop-color="#3aba76"/><stop offset="0.576" stop-color="#65cb5e"/><stop offset="0.758" stop-color="#a2da37"/><stop offset="0.864" stop-color="#d0e11c"/><stop offset="0.879" stop-color="#c8e020"/><stop offset="0.939" stop-color="#90d743"/><stop offset="0.970" stop-color="#77d153"/><stop offset="0.985" stop-color="#70cf57"/><stop offset="1.000" stop-color="#70cf57"/></linearGradient><linearGradient id="g73" gradientUnits="userSpaceOnUse" x1="499" x2="697" y1="0" y2="0"><stop offset="0.000" stop-color="#2d718e"/><stop offset="0.030" stop-color="#2c718e"/><stop offset="0.091" stop-color="#26828e"/><stop offset="0.227" stop-color="#1f9f88"/><stop offset="0.333" stop-color="#29af7f"/><stop offset="0.455" stop-color="#3fbc73"/><stop offset="0.636" stop-color="#7ad151"/><stop offset="0.712" stop-color="#93d741"/><stop offset="0.864" stop-color="#d0e11c"/><stop offset="0.894" stop-color="#b8de29"/><stop offset="0.970" stop-color="#75d054"/><stop offset="0.985" stop-color="#70cf57"/><stop offset="1.000" stop-color="#70cf57"/></linearGradient><linearGradient id="g74" gradientUnits="userSpaceOnUse" x1="500" x2="698" y1="0" y2="0"><stop offset="0.000" stop-color="#2d718e"/><stop offset="0.030" stop-color="#2c718e"/><stop offset="0.091" stop-color="#25838e"/><stop offset="0.227" stop-color="#1fa088"/><stop offset="0.348" stop-color="#2cb17e"/><stop offset="0.424" stop-color="#38b977"/><stop offset="0.561" stop-color="#63cb5f"/><stop offset="0.758" stop-color="#a5db36"/><stop offset="0.864" stop-color="#d0e11c"/><stop offset="0.970" stop-color="#75d054"/><stop offset="0.985" stop-color="#6ece58"/><stop offset="1.000" stop-color="#6ece58"/></linearGradient><linearGradient id="g75" gradientUnits="userSpaceOnUse" x1="501" x2="698" y1="0" y2="0"><stop offset="0.000" stop-color="#2d718e"/><stop offset="0.030" stop-color="#2c728e"/><stop offset="0.137" stop-color="#228d8d"/><stop offset="0.244" stop-color="#1fa287"/><stop offset="0.365" stop-color="#2fb47c"/><stop offset="0.442" stop-color="#3dbc74"/><stop offset="0.624" stop-color="#77d153"/><stop offset="0.716" stop-color="#95d840"/><stop offset="0.777" stop-color="#addc30"/><stop offset="0.868" stop-color="#d0e11c"/><stop offset="0.914" stop-color="#a5db36"/><stop offset="0.975" stop-color="#73d056"/><stop offset="0.990" stop-color="#6ece58"/></linearGradient><linearGradient id="g76" gradientUnits="userSpaceOnUse" x1="501" x2="699" y1="0" y2="0"><stop offset="0.000" stop-color="#2d718e"/><stop offset="0.030" stop-color="#2d718e"/><stop offset="0.091" stop-color="#26828e"/><stop offset="0.227" stop-color="#1fa088"/><stop offset="0.333" stop-color="#2ab07f"/><stop offset="0.439" stop-color="#3dbc74"/><stop offset="0.621" stop-color="#77d153"/><stop offset="0.742" stop-color="#a0da39"/><stop offset="0.803" stop-color="#b8de29"/><stop offset="0.864" stop-color="#d0e11c"/><stop offset="0.970" stop-color="#73d056"/><stop offset="0.985" stop-color="#6ccd5a"/><stop offset="1.000" stop-color="#6ccd5a"/></linearGradient><linearGradient id="g77" gradientUnits="userSpaceOnUse" x1="502" x2="700" y1="0" y2="0"><stop offset="0.000" stop-color="#2d718e"/><stop offset="0.030" stop-color="#2c718e"/><stop offset="0.091" stop-color="#26828e"/><stop offset="0.212" stop-color="#1e9d89"/><stop offset="0.318" stop-color="#28ae80"/><stop offset="0.439" stop-color="#3fbc73"/><stop offset="0.545" stop-color="#60ca60"/><stop offset="0.788" stop-color="#b2dd2d"/><stop offset="0.833" stop-color="#c5e021"/><stop offset="0.864" stop-color="#d0e11c"/><stop offset="0.939" stop-color="#8bd646"/><stop offset="0.970" stop-color="#70cf57"/><stop offset="0.985" stop-color="#69cd5b"/><stop offset="1.000" stop-color="#69cd5b"/></linearGradient><linearGradient id="g78" gradientUnits="userSpaceOnUse" x1="503" x2="701" y1="0" y2="0"><stop offset="0.000" stop-color="#2d718e"/><stop offset="0.030" stop-color="#2c728e"/><stop offset="0.152" stop-color="#21918c"/><stop offset="0.242" stop-color="#20a386"/><stop offset="0.379" stop-color="#34b679"/><stop offset="0.455" stop-color="#44bf70"/><stop offset="0.636" stop-color="#7fd34e"/><stop offset="0.742" stop-color="#a2da37"/><stop offset="0.803" stop-color="#bade28"/><stop offset="0.848" stop-color="#cde11d"/><stop offset="0.864" stop-color="#cde11d"/><stop offset="0.939" stop-color="#89d548"/><stop offset="0.970" stop-color="#6ece58"/><stop offset="0.985" stop-color="#69cd5b"/><stop offset="1.000" stop-color="#69cd5b"/></linearGradient><linearGradient id="g79" gradientUnits="userSpaceOnUse" x1="503" x2="702" y1="0" y2="0"><stop offset="0.000" stop-color="#2d718e"/><stop offset="0.030" stop-color="#2d718e"/><stop offset="0.090" stop-color="#26828e"/><stop offset="0.226" stop-color="#1fa088"/><stop offset="0.332" stop-color="#2cb17e"/><stop offset="0.407" stop-color="#38b977"/><stop offset="0.528" stop-color="#5cc863"/><stop offset="0.784" stop-color="#b2dd2d"/><stop offset="0.829" stop-color="#c5e021"/><stop offset="0.859" stop-color="#d0e11c"/><stop offset="0.950" stop-color="#7cd250"/><stop offset="0.980" stop-color="#67cc5c"/><stop offset="0.995" stop-color="#67cc5c"/></linearGradient><linearGradient id="g80" gradientUnits="userSpaceOnUse" x1="504" x2="702" y1="0" y2="0"><stop offset="0.000" stop-color="#2d718e"/><stop offset="0.030" stop-color="#2c718e"/><stop offset="0.182" stop-color="#1f978b"/><stop offset="0.258" stop-color="#21a685"/><stop offset="0.409" stop-color="#3aba76"/><stop offset="0.500" stop-color="#54c568"/><stop offset="0.652" stop-color="#86d549"/><stop offset="0.712" stop-color="#98d83e"/><stop offset="0.848" stop-color="#cae11f"/><stop offset="0.864" stop-color="#cde11d"/><stop offset="0.970" stop-color="#6ece58"/><stop offset="0.985" stop-color="#65cb5e"/><stop offset="1.000" stop-color="#65cb5e"/></linearGradient><linearGradient id="g81" gradientUnits="userSpaceOnUse" x1="504" x2="703" y1="0" y2="0"><stop offset="0.000" stop-color="#2d718e"/><stop offset="0.030" stop-color="#2d708e"/><stop offset="0.075" stop-color="#277e8e"/><stop offset="0.211" stop-color="#1e9d89"/><stop offset="0.317" stop-color="#29af7f"/><stop offset="0.437" stop-color="#40bd72"/><stop offset="0.633" stop-color="#7fd34e"/><stop offset="0.784" stop-color="#b2dd2d"/><stop offset="0.829" stop-color="#c5e021"/><stop offset="0.859" stop-color="#d0e11c"/><stop offset="0.950" stop-color="#7cd250"/><stop offset="0.980" stop-color="#65cb5e"/><stop offset="0.995" stop-color="#65cb5e"/></linearGradient><linearGradient id="g82" gradientUnits="userSpaceOnUse" x1="505" x2="704" y1="0" y2="0"><stop offset="0.000" stop-color="#2d718e"/><stop offset="0.030" stop-color="#2d718e"/><stop offset="0.090" stop-color="#26828e"/><stop offset="0.211" stop-color="#1f9e89"/><stop offset="0.317" stop-color="#29af7f"/><stop offset="0.422" stop-color="#3dbc74"/><stop offset="0.588" stop-color="#70cf57"/><stop offset="0.633" stop-color="#81d34d"/><stop offset="0.693" stop-color="#93d741"/><stop offset="0.739" stop-color="#a2da37"/><stop offset="0.799" stop-color="#bade28"/><stop offset="0.844" stop-color="#cae11f"/><stop offset="0.859" stop-color="#cde11d"/><stop offset="0.965" stop-color="#6ece58"/><stop offset="0.980" stop-color="#63cb5f"/><stop offset="0.995" stop-color="#63cb5f"/></linearGradient><linearGradient id="g83" gradientUnits="userSpaceOnUse" x1="506" x2="705" y1="0" y2="0"><stop offset="0.000" stop-color="#2d718e"/><stop offset="0.030" stop-color="#2c718e"/><stop offset="0.196" stop-color="#1e9b8a"/><stop offset="0.286" stop-color="#25ac82"/><stop offset="0.392" stop-color="#37b878"/><stop offset="0.482" stop-color="#50c46a"/><stop offset="0.709" stop-color="#9bd93c"/><stop offset="0.844" stop-color="#cae11f"/><stop offset="0.859" stop-color="#cae11f"/><stop offset="0.965" stop-color="#6ccd5a"/><stop offset="0.980" stop-color="#60ca60"/><stop offset="0.995" stop-color="#60ca60"/></linearGradient><linearGradient id="g84" gradientUnits="userSpaceOnUse" x1="506" x2="706" y1="0" y2="0"><stop offset="0.000" stop-color="#2d718e"/><stop offset="0.030" stop-color="#2d718e"/><stop offset="0.195" stop-color="#1f9a8a"/><stop offset="0.270" stop-color="#23a983"/><stop offset="0.420" stop-color="#3dbc74"/><stop offset="0.615" stop-color="#7ad151"/><stop offset="0.765" stop-color="#addc30"/><stop offset="0.825" stop-color="#c5e021"/><stop offset="0.855" stop-color="#cde11d"/><stop offset="0.960" stop-color="#6ece58"/><stop offset="0.975" stop-color="#63cb5f"/><stop offset="0.990" stop-color="#60ca60"/></linearGradient><linearGradient id="g85" gradientUnits="userSpaceOnUse" x1="507" x2="706" y1="0" y2="0"><stop offset="0.000" stop-color="#2d718e"/><stop offset="0.030" stop-color="#2c718e"/><stop offset="0.181" stop-color="#1f978b"/><stop offset="0.256" stop-color="#22a785"/><stop offset="0.392" stop-color="#37b878"/><stop offset="0.497" stop-color="#54c568"/><stop offset="0.754" stop-color="#a8db34"/><stop offset="0.814" stop-color="#c0df25"/><stop offset="0.844" stop-color="#cae11f"/><stop offset="0.859" stop-color="#cae11f"/><stop offset="0.965" stop-color="#6ccd5a"/><stop offset="0.980" stop-color="#60ca60"/><stop offset="0.995" stop-color="#5ec962"/></linearGradient><linearGradient id="g86" gradientUnits="userSpaceOnUse" x1="507" x2="707" y1="0" y2="0"><stop offset="0.000" stop-color="#2c718e"/><stop offset="0.030" stop-color="#2d718e"/><stop offset="0.195" stop-color="#1f9a8a"/><stop offset="0.270" stop-color="#23a983"/><stop offset="0.405" stop-color="#38b977"/><stop offset="0.615" stop-color="#77d153"/><stop offset="0.720" stop-color="#9bd93c"/><stop offset="0.780" stop-color="#b2dd2d"/><stop offset="0.855" stop-color="#cde11d"/><stop offset="0.915" stop-color="#95d840"/><stop offset="0.945" stop-color="#7ad151"/><stop offset="0.975" stop-color="#60ca60"/><stop offset="0.990" stop-color="#5cc863"/></linearGradient><linearGradient id="g87" gradientUnits="userSpaceOnUse" x1="508" x2="708" y1="0" y2="0"><stop offset="0.000" stop-color="#2d718e"/><stop offset="0.030" stop-color="#2d718e"/><stop offset="0.180" stop-color="#1f968b"/><stop offset="0.255" stop-color="#21a685"/><stop offset="0.390" stop-color="#35b779"/><stop offset="0.480" stop-color="#4cc26c"/><stop offset="0.690" stop-color="#90d743"/><stop offset="0.750" stop-color="#a5db36"/><stop offset="0.810" stop-color="#bddf26"/><stop offset="0.855" stop-color="#cde11d"/><stop offset="0.930" stop-color="#84d44b"/><stop offset="0.975" stop-color="#5cc863"/><stop offset="0.990" stop-color="#5ac864"/></linearGradient><linearGradient id="g88" gradientUnits="userSpaceOnUse" x1="509" x2="709" y1="0" y2="0"><stop offset="0.000" stop-color="#2d718e"/><stop offset="0.030" stop-color="#2c718e"/><stop offset="0.120" stop-color="#23888e"/><stop offset="0.225" stop-color="#1fa088"/><stop offset="0.345" stop-color="#2db27d"/><stop offset="0.465" stop-color="#46c06f"/><stop offset="0.690" stop-color="#8ed645"/><stop offset="0.780" stop-color="#b0dd2f"/><stop offset="0.825" stop-color="#c2df23"/><stop offset="0.855" stop-color="#cde11d"/><stop offset="0.885" stop-color="#b0dd2f"/><stop offset="0.960" stop-color="#65cb5e"/><stop offset="0.975" stop-color="#5ac864"/><stop offset="0.990" stop-color="#56c667"/></linearGradient><linearGradient id="g89" gradientUnits="userSpaceOnUse" x1="509" x2="710" y1="0" y2="0"><stop offset="0.000" stop-color="#2d718e"/><stop offset="0.030" stop-color="#2d718e"/><stop offset="0.119" stop-color="#24878e"/><stop offset="0.224" stop-color="#1f9f88"/><stop offset="0.343" stop-color="#2cb17e"/><stop offset="0.478" stop-color="#48c16e"/><stop offset="0.582" stop-color="#67cc5c"/><stop offset="0.731" stop-color="#9bd93c"/><stop offset="0.821" stop-color="#c0df25"/><stop offset="0.851" stop-color="#cae11f"/><stop offset="0.866" stop-color="#c2df23"/><stop offset="0.955" stop-color="#67cc5c"/><stop offset="0.970" stop-color="#5ac864"/><stop offset="0.985" stop-color="#54c568"/><stop offset="1.000" stop-color="#54c568"/></linearGradient><linearGradient id="g90" gradientUnits="userSpaceOnUse" x1="510" x2="711" y1="0" y2="0"><stop offset="0.000" stop-color="#2d718e"/><stop offset="0.030" stop-color="#2c718e"/><stop offset="0.179" stop-color="#1f948c"/><stop offset="0.254" stop-color="#20a486"/><stop offset="0.418" stop-color="#38b977"/><stop offset="0.522" stop-color="#54c568"/><stop offset="0.701" stop-color="#8ed645"/><stop offset="0.791" stop-color="#b2dd2d"/><stop offset="0.851" stop-color="#cae11f"/><stop offset="0.866" stop-color="#c2df23"/><stop offset="0.940" stop-color="#70cf57"/><stop offset="0.970" stop-color="#56c667"/><stop offset="0.985" stop-color="#50c46a"/><stop offset="1.000" stop-color="#50c46a"/></linearGradient><linearGradient id="g91" gradientUnits="userSpaceOnUse" x1="510" x2="711" y1="0" y2="0"><stop offset="0.000" stop-color="#2d718e"/><stop offset="0.030" stop-color="#2d708e"/><stop offset="0.090" stop-color="#26818e"/><stop offset="0.224" stop-color="#1e9d89"/><stop offset="0.328" stop-color="#28ae80"/><stop offset="0.448" stop-color="#3dbc74"/><stop offset="0.597" stop-color="#67cc5c"/><stop offset="0.716" stop-color="#90d743"/><stop offset="0.851" stop-color="#c8e020"/><stop offset="0.866" stop-color="#c8e020"/><stop offset="0.940" stop-color="#73d056"/><stop offset="0.970" stop-color="#56c667"/><stop offset="0.985" stop-color="#4cc26c"/><stop offset="1.000" stop-color="#4cc26c"/></linearGradient><linearGradient id="g92" gradientUnits="userSpaceOnUse" x1="511" x2="712" y1="0" y2="0"><stop offset="0.000" stop-color="#2d718e"/><stop offset="0.030" stop-color="#2d718e"/><stop offset="0.104" stop-color="#25838e"/><stop offset="0.239" stop-color="#1fa088"/><stop offset="0.373" stop-color="#2eb37c"/><stop offset="0.463" stop-color="#3fbc73"/><stop offset="0.701" stop-color="#89d548"/><stop offset="0.821" stop-color="#bade28"/><stop offset="0.866" stop-color="#c8e020"/><stop offset="0.896" stop-color="#a2da37"/><stop offset="0.970" stop-color="#52c569"/><stop offset="0.985" stop-color="#4ac16d"/><stop offset="1.000" stop-color="#4ac16d"/></linearGradient><linearGradient id="g93" gradientUnits="userSpaceOnUse" x1="512" x2="713" y1="0" y2="0"><stop offset="0.000" stop-color="#2d718e"/><stop offset="0.030" stop-color="#2c718e"/><stop offset="0.090" stop-color="#26818e"/><stop offset="0.224" stop-color="#1e9d89"/><stop offset="0.328" stop-color="#27ad81"/><stop offset="0.463" stop-color="#3fbc73"/><stop offset="0.597" stop-color="#65cb5e"/><stop offset="0.716" stop-color="#8ed645"/><stop offset="0.836" stop-color="#c0df25"/><stop offset="0.851" stop-color="#c5e021"/><stop offset="0.866" stop-color="#c5e021"/><stop offset="0.896" stop-color="#a0da39"/><stop offset="0.970" stop-color="#50c46a"/><stop offset="0.985" stop-color="#48c16e"/><stop offset="1.000" stop-color="#48c16e"/></linearGradient><linearGradient id="g94" gradientUnits="userSpaceOnUse" x1="512" x2="714" y1="0" y2="0"><stop offset="0.000" stop-color="#2d718e"/><stop offset="0.030" stop-color="#2d718e"/><stop offset="0.104" stop-color="#25838e"/><stop offset="0.238" stop-color="#1f9f88"/><stop offset="0.342" stop-color="#29af7f"/><stop offset="0.475" stop-color="#40bd72"/><stop offset="0.639" stop-color="#73d056"/><stop offset="0.713" stop-color="#8bd646"/><stop offset="0.832" stop-color="#bddf26"/><stop offset="0.861" stop-color="#c8e020"/><stop offset="0.936" stop-color="#70cf57"/><stop offset="0.965" stop-color="#52c569"/><stop offset="0.980" stop-color="#46c06f"/><stop offset="0.995" stop-color="#46c06f"/></linearGradient><linearGradient id="g95" gradientUnits="userSpaceOnUse" x1="513" x2="715" y1="0" y2="0"><stop offset="0.000" stop-color="#2d718e"/><stop offset="0.030" stop-color="#2c718e"/><stop offset="0.089" stop-color="#26818e"/><stop offset="0.238" stop-color="#1f9f88"/><stop offset="0.342" stop-color="#29af7f"/><stop offset="0.460" stop-color="#3dbc74"/><stop offset="0.564" stop-color="#5ac864"/><stop offset="0.713" stop-color="#8bd646"/><stop offset="0.847" stop-color="#c2df23"/><stop offset="0.861" stop-color="#c5e021"/><stop offset="0.891" stop-color="#a0da39"/><stop offset="0.965" stop-color="#50c46a"/><stop offset="0.980" stop-color="#44bf70"/><stop offset="0.995" stop-color="#44bf70"/></linearGradient><linearGradient id="g96" gradientUnits="userSpaceOnUse" x1="513" x2="715" y1="0" y2="0"><stop offset="0.000" stop-color="#2d718e"/><stop offset="0.030" stop-color="#2d708e"/><stop offset="0.089" stop-color="#26818e"/><stop offset="0.238" stop-color="#1f9e89"/><stop offset="0.356" stop-color="#2ab07f"/><stop offset="0.475" stop-color="#40bd72"/><stop offset="0.639" stop-color="#70cf57"/><stop offset="0.698" stop-color="#84d44b"/><stop offset="0.861" stop-color="#c5e021"/><stop offset="0.876" stop-color="#b8de29"/><stop offset="0.936" stop-color="#70cf57"/><stop offset="0.980" stop-color="#44bf70"/><stop offset="0.995" stop-color="#42be71"/></linearGradient><linearGradient id="g97" gradientUnits="userSpaceOnUse" x1="514" x2="716" y1="0" y2="0"><stop offset="0.000" stop-color="#2d718e"/><stop offset="0.030" stop-color="#2d718e"/><stop offset="0.104" stop-color="#25838e"/><stop offset="0.238" stop-color="#1f9f88"/><stop offset="0.356" stop-color="#2ab07f"/><stop offset="0.475" stop-color="#40bd72"/><stop offset="0.698" stop-color="#84d44b"/><stop offset="0.861" stop-color="#c2df23"/><stop offset="0.876" stop-color="#b5de2b"/><stop offset="0.936" stop-color="#6ccd5a"/><stop offset="0.980" stop-color="#40bd72"/><stop offset="0.995" stop-color="#40bd72"/></linearGradient><linearGradient id="g98" gradientUnits="userSpaceOnUse" x1="515" x2="717" y1="0" y2="0"><stop offset="0.000" stop-color="#2d718e"/><stop offset="0.030" stop-color="#2c718e"/><stop offset="0.104" stop-color="#25848e"/><stop offset="0.238" stop-color="#1f9f88"/><stop offset="0.342" stop-color="#29af7f"/><stop offset="0.475" stop-color="#40bd72"/><stop offset="0.698" stop-color="#84d44b"/><stop offset="0.787" stop-color="#a5db36"/><stop offset="0.847" stop-color="#bddf26"/><stop offset="0.861" stop-color="#c2df23"/><stop offset="0.936" stop-color="#69cd5b"/><stop offset="0.980" stop-color="#3fbc73"/><stop offset="0.995" stop-color="#3fbc73"/></linearGradient><linearGradient id="g99" gradientUnits="userSpaceOnUse" x1="516" x2="718" y1="0" y2="0"><stop offset="0.000" stop-color="#2d718e"/><stop offset="0.030" stop-color="#2c718e"/><stop offset="0.104" stop-color="#25848e"/><stop offset="0.238" stop-color="#1f9f88"/><stop offset="0.342" stop-color="#29af7f"/><stop offset="0.475" stop-color="#40bd72"/><stop offset="0.698" stop-color="#84d44b"/><stop offset="0.743" stop-color="#93d741"/><stop offset="0.817" stop-color="#b0dd2f"/><stop offset="0.861" stop-color="#c2df23"/><stop offset="0.891" stop-color="#9bd93c"/><stop offset="0.950" stop-color="#58c765"/><stop offset="0.980" stop-color="#3dbc74"/><stop offset="0.995" stop-color="#3dbc74"/></linearGradient><linearGradient id="g100" gradientUnits="userSpaceOnUse" x1="516" x2="719" y1="0" y2="0"><stop offset="0.000" stop-color="#2c718e"/><stop offset="0.030" stop-color="#2d718e"/><stop offset="0.103" stop-color="#25838e"/><stop offset="0.236" stop-color="#1f9f88"/><stop offset="0.355" stop-color="#2ab07f"/><stop offset="0.473" stop-color="#40bd72"/><stop offset="0.665" stop-color="#77d153"/><stop offset="0.724" stop-color="#8bd646"/><stop offset="0.798" stop-color="#a8db34"/><stop offset="0.857" stop-color="#bddf26"/><stop offset="0.872" stop-color="#b2dd2d"/><stop offset="0.901" stop-color="#8bd646"/><stop offset="0.946" stop-color="#5ac864"/><stop offset="0.975" stop-color="#3fbc73"/><stop offset="0.990" stop-color="#3dbc74"/></linearGradient><linearGradient id="g101" gradientUnits="userSpaceOnUse" x1="517" x2="719" y1="0" y2="0"><stop offset="0.000" stop-color="#2c718e"/><stop offset="0.030" stop-color="#2d718e"/><stop offset="0.119" stop-color="#24878e"/><stop offset="0.238" stop-color="#1f9f88"/><stop offset="0.371" stop-color="#2db27d"/><stop offset="0.490" stop-color="#44bf70"/><stop offset="0.683" stop-color="#7cd250"/><stop offset="0.757" stop-color="#95d840"/><stop offset="0.817" stop-color="#addc30"/><stop offset="0.861" stop-color="#bddf26"/><stop offset="0.936" stop-color="#67cc5c"/><stop offset="0.980" stop-color="#3bbb75"/><stop offset="0.995" stop-color="#3bbb75"/></linearGradient><linearGradient id="g102" gradientUnits="userSpaceOnUse" x1="518" x2="720" y1="0" y2="0"><stop offset="0.000" stop-color="#2d718e"/><stop offset="0.030" stop-color="#2c718e"/><stop offset="0.104" stop-color="#25848e"/><stop offset="0.238" stop-color="#1f9f88"/><stop offset="0.371" stop-color="#2db27d"/><stop offset="0.490" stop-color="#44bf70"/><stop offset="0.683" stop-color="#7cd250"/><stop offset="0.802" stop-color="#a5db36"/><stop offset="0.861" stop-color="#bddf26"/><stop offset="0.921" stop-color="#75d054"/><stop offset="0.950" stop-color="#54c568"/><stop offset="0.980" stop-color="#3aba76"/><stop offset="0.995" stop-color="#3aba76"/></linearGradient><linearGradient id="g103" gradientUnits="userSpaceOnUse" x1="519" x2="721" y1="0" y2="0"><stop offset="0.000" stop-color="#2d718e"/><stop offset="0.030" stop-color="#2c718e"/><stop offset="0.104" stop-color="#25848e"/><stop offset="0.238" stop-color="#1fa088"/><stop offset="0.371" stop-color="#2db27d"/><stop offset="0.490" stop-color="#42be71"/><stop offset="0.743" stop-color="#8ed645"/><stop offset="0.817" stop-color="#aadc32"/><stop offset="0.861" stop-color="#bade28"/><stop offset="0.936" stop-color="#60ca60"/><stop offset="0.980" stop-color="#38b977"/><stop offset="0.995" stop-color="#38b977"/></linearGradient><linearGradient id="g104" gradientUnits="userSpaceOnUse" x1="519" x2="722" y1="0" y2="0"><stop offset="0.000" stop-color="#2c718e"/><stop offset="0.030" stop-color="#2d718e"/><stop offset="0.103" stop-color="#25838e"/><stop offset="0.236" stop-color="#1f9f88"/><stop offset="0.355" stop-color="#29af7f"/><stop offset="0.488" stop-color="#40bd72"/><stop offset="0.635" stop-color="#69cd5b"/><stop offset="0.665" stop-color="#75d054"/><stop offset="0.724" stop-color="#86d549"/><stop offset="0.857" stop-color="#b8de29"/><stop offset="0.872" stop-color="#addc30"/><stop offset="0.901" stop-color="#86d549"/><stop offset="0.946" stop-color="#54c568"/><stop offset="0.975" stop-color="#3aba76"/><stop offset="0.990" stop-color="#37b878"/></linearGradient><linearGradient id="g105" gradientUnits="userSpaceOnUse" x1="520" x2="723" y1="0" y2="0"><stop offset="0.000" stop-color="#2c718e"/><stop offset="0.030" stop-color="#2d718e"/><stop offset="0.103" stop-color="#25838e"/><stop offset="0.236" stop-color="#1f9f88"/><stop offset="0.355" stop-color="#29af7f"/><stop offset="0.473" stop-color="#3dbc74"/><stop offset="0.650" stop-color="#6ece58"/><stop offset="0.798" stop-color="#a0da39"/><stop offset="0.857" stop-color="#b8de29"/><stop offset="0.931" stop-color="#63cb5f"/><stop offset="0.961" stop-color="#44bf70"/><stop offset="0.975" stop-color="#38b977"/><stop offset="0.990" stop-color="#37b878"/></linearGradient><linearGradient id="g106" gradientUnits="userSpaceOnUse" x1="521" x2="723" y1="0" y2="0"><stop offset="0.000" stop-color="#2c718e"/><stop offset="0.030" stop-color="#2c718e"/><stop offset="0.134" stop-color="#238a8d"/><stop offset="0.252" stop-color="#1fa187"/><stop offset="0.401" stop-color="#2fb47c"/><stop offset="0.490" stop-color="#3fbc73"/><stop offset="0.668" stop-color="#70cf57"/><stop offset="0.757" stop-color="#8ed645"/><stop offset="0.832" stop-color="#aadc32"/><stop offset="0.861" stop-color="#b5de2b"/><stop offset="0.936" stop-color="#60ca60"/><stop offset="0.980" stop-color="#37b878"/><stop offset="0.995" stop-color="#37b878"/></linearGradient><linearGradient id="g107" gradientUnits="userSpaceOnUse" x1="521" x2="724" y1="0" y2="0"><stop offset="0.000" stop-color="#2c718e"/><stop offset="0.030" stop-color="#2d708e"/><stop offset="0.103" stop-color="#26828e"/><stop offset="0.236" stop-color="#1f9e89"/><stop offset="0.355" stop-color="#28ae80"/><stop offset="0.488" stop-color="#3bbb75"/><stop offset="0.635" stop-color="#63cb5f"/><stop offset="0.768" stop-color="#90d743"/><stop offset="0.842" stop-color="#addc30"/><stop offset="0.857" stop-color="#b2dd2d"/><stop offset="0.872" stop-color="#aadc32"/><stop offset="0.901" stop-color="#84d44b"/><stop offset="0.946" stop-color="#54c568"/><stop offset="0.975" stop-color="#3aba76"/><stop offset="0.990" stop-color="#35b779"/></linearGradient><linearGradient id="g108" gradientUnits="userSpaceOnUse" x1="522" x2="725" y1="0" y2="0"><stop offset="0.000" stop-color="#2c718e"/><stop offset="0.030" stop-color="#2d708e"/><stop offset="0.074" stop-color="#287d8e"/><stop offset="0.236" stop-color="#1f9e89"/><stop offset="0.369" stop-color="#29af7f"/><stop offset="0.502" stop-color="#3dbc74"/><stop offset="0.621" stop-color="#5cc863"/><stop offset="0.754" stop-color="#89d548"/><stop offset="0.857" stop-color="#b2dd2d"/><stop offset="0.872" stop-color="#a5db36"/><stop offset="0.931" stop-color="#60ca60"/><stop offset="0.975" stop-color="#38b977"/><stop offset="0.990" stop-color="#35b779"/></linearGradient><linearGradient id="g109" gradientUnits="userSpaceOnUse" x1="523" x2="726" y1="0" y2="0"><stop offset="0.000" stop-color="#2c718e"/><stop offset="0.030" stop-color="#2d718e"/><stop offset="0.089" stop-color="#27808e"/><stop offset="0.236" stop-color="#1e9d89"/><stop offset="0.325" stop-color="#25ab82"/><stop offset="0.473" stop-color="#37b878"/><stop offset="0.606" stop-color="#56c667"/><stop offset="0.724" stop-color="#7cd250"/><stop offset="0.857" stop-color="#b2dd2d"/><stop offset="0.901" stop-color="#7fd34e"/><stop offset="0.961" stop-color="#44bf70"/><stop offset="0.975" stop-color="#38b977"/><stop offset="0.990" stop-color="#35b779"/></linearGradient><linearGradient id="g110" gradientUnits="userSpaceOnUse" x1="524" x2="727" y1="0" y2="0"><stop offset="0.000" stop-color="#2c718e"/><stop offset="0.030" stop-color="#2d718e"/><stop offset="0.089" stop-color="#27808e"/><stop offset="0.236" stop-color="#1e9d89"/><stop offset="0.355" stop-color="#27ad81"/><stop offset="0.488" stop-color="#38b977"/><stop offset="0.635" stop-color="#5ec962"/><stop offset="0.754" stop-color="#86d549"/><stop offset="0.828" stop-color="#a5db36"/><stop offset="0.857" stop-color="#b0dd2f"/><stop offset="0.901" stop-color="#7cd250"/><stop offset="0.961" stop-color="#42be71"/><stop offset="0.975" stop-color="#37b878"/><stop offset="0.990" stop-color="#35b779"/></linearGradient><linearGradient id="g111" gradientUnits="userSpaceOnUse" x1="525" x2="728" y1="0" y2="0"><stop offset="0.000" stop-color="#2c718e"/><stop offset="0.030" stop-color="#2d718e"/><stop offset="0.089" stop-color="#27808e"/><stop offset="0.251" stop-color="#1fa088"/><stop offset="0.399" stop-color="#2cb17e"/><stop offset="0.502" stop-color="#3aba76"/><stop offset="0.591" stop-color="#50c46a"/><stop offset="0.724" stop-color="#7ad151"/><stop offset="0.798" stop-color="#98d83e"/><stop offset="0.857" stop-color="#b0dd2f"/><stop offset="0.887" stop-color="#8bd646"/><stop offset="0.946" stop-color="#4ec36b"/><stop offset="0.975" stop-color="#35b779"/><stop offset="0.990" stop-color="#35b779"/></linearGradient><linearGradient id="g112" gradientUnits="userSpaceOnUse" x1="526" x2="728" y1="0" y2="0"><stop offset="0.000" stop-color="#2c718e"/><stop offset="0.030" stop-color="#2d718e"/><stop offset="0.089" stop-color="#27808e"/><stop offset="0.252" stop-color="#1f9f88"/><stop offset="0.386" stop-color="#29af7f"/><stop offset="0.490" stop-color="#37b878"/><stop offset="0.594" stop-color="#50c46a"/><stop offset="0.728" stop-color="#7ad151"/><stop offset="0.832" stop-color="#a2da37"/><stop offset="0.861" stop-color="#addc30"/><stop offset="0.891" stop-color="#89d548"/><stop offset="0.950" stop-color="#4cc26c"/><stop offset="0.980" stop-color="#35b779"/><stop offset="0.995" stop-color="#34b679"/></linearGradient><linearGradient id="g113" gradientUnits="userSpaceOnUse" x1="527" x2="729" y1="0" y2="0"><stop offset="0.000" stop-color="#2c718e"/><stop offset="0.030" stop-color="#2d718e"/><stop offset="0.089" stop-color="#27808e"/><stop offset="0.252" stop-color="#1f9f88"/><stop offset="0.401" stop-color="#2ab07f"/><stop offset="0.520" stop-color="#3bbb75"/><stop offset="0.713" stop-color="#75d054"/><stop offset="0.802" stop-color="#95d840"/><stop offset="0.847" stop-color="#a8db34"/><stop offset="0.861" stop-color="#aadc32"/><stop offset="0.891" stop-color="#86d549"/><stop offset="0.936" stop-color="#58c765"/><stop offset="0.980" stop-color="#34b679"/><stop offset="0.995" stop-color="#34b679"/></linearGradient><linearGradient id="g114" gradientUnits="userSpaceOnUse" x1="528" x2="730" y1="0" y2="0"><stop offset="0.000" stop-color="#2c718e"/><stop offset="0.030" stop-color="#2d718e"/><stop offset="0.089" stop-color="#27808e"/><stop offset="0.252" stop-color="#1f9e89"/><stop offset="0.401" stop-color="#29af7f"/><stop offset="0.520" stop-color="#3bbb75"/><stop offset="0.713" stop-color="#75d054"/><stop offset="0.847" stop-color="#a5db36"/><stop offset="0.861" stop-color="#a8db34"/><stop offset="0.891" stop-color="#84d44b"/><stop offset="0.936" stop-color="#56c667"/><stop offset="0.980" stop-color="#34b679"/><stop offset="0.995" stop-color="#34b679"/></linearGradient><linearGradient id="g115" gradientUnits="userSpaceOnUse" x1="529" x2="731" y1="0" y2="0"><stop offset="0.000" stop-color="#2c718e"/><stop offset="0.030" stop-color="#2d718e"/><stop offset="0.104" stop-color="#26828e"/><stop offset="0.267" stop-color="#1fa088"/><stop offset="0.386" stop-color="#27ad81"/><stop offset="0.520" stop-color="#3aba76"/><stop offset="0.713" stop-color="#75d054"/><stop offset="0.802" stop-color="#93d741"/><stop offset="0.847" stop-color="#a5db36"/><stop offset="0.861" stop-color="#a2da37"/><stop offset="0.921" stop-color="#63cb5f"/><stop offset="0.965" stop-color="#3bbb75"/><stop offset="0.980" stop-color="#34b679"/><stop offset="0.995" stop-color="#34b679"/></linearGradient><linearGradient id="g116" gradientUnits="userSpaceOnUse" x1="530" x2="732" y1="0" y2="0"><stop offset="0.000" stop-color="#2c718e"/><stop offset="0.030" stop-color="#2d708e"/><stop offset="0.089" stop-color="#277f8e"/><stop offset="0.267" stop-color="#1f9f88"/><stop offset="0.386" stop-color="#26ad81"/><stop offset="0.520" stop-color="#3aba76"/><stop offset="0.594" stop-color="#50c46a"/><stop offset="0.832" stop-color="#9dd93b"/><stop offset="0.847" stop-color="#a2da37"/><stop offset="0.861" stop-color="#a0da39"/><stop offset="0.921" stop-color="#60ca60"/><stop offset="0.965" stop-color="#3bbb75"/><stop offset="0.980" stop-color="#32b67a"/><stop offset="0.995" stop-color="#32b67a"/></linearGradient><linearGradient id="g117" gradientUnits="userSpaceOnUse" x1="531" x2="732" y1="0" y2="0"><stop offset="0.000" stop-color="#2c718e"/><stop offset="0.030" stop-color="#2d708e"/><stop offset="0.090" stop-color="#277e8e"/><stop offset="0.269" stop-color="#1e9d89"/><stop offset="0.388" stop-color="#25ac82"/><stop offset="0.522" stop-color="#37b878"/><stop offset="0.672" stop-color="#67cc5c"/><stop offset="0.701" stop-color="#6ece58"/><stop offset="0.731" stop-color="#7ad151"/><stop offset="0.791" stop-color="#8bd646"/><stop offset="0.851" stop-color="#a0da39"/><stop offset="0.866" stop-color="#9dd93b"/><stop offset="0.896" stop-color="#7cd250"/><stop offset="0.955" stop-color="#44bf70"/><stop offset="0.985" stop-color="#32b67a"/><stop offset="1.000" stop-color="#32b67a"/></linearGradient><linearGradient id="g118" gradientUnits="userSpaceOnUse" x1="533" x2="733" y1="0" y2="0"><stop offset="0.000" stop-color="#2c718e"/><stop offset="0.030" stop-color="#2d718e"/><stop offset="0.090" stop-color="#277e8e"/><stop offset="0.270" stop-color="#1e9c89"/><stop offset="0.390" stop-color="#25ab82"/><stop offset="0.525" stop-color="#37b878"/><stop offset="0.690" stop-color="#6ccd5a"/><stop offset="0.840" stop-color="#9bd93c"/><stop offset="0.855" stop-color="#a0da39"/><stop offset="0.930" stop-color="#58c765"/><stop offset="0.960" stop-color="#3fbc73"/><stop offset="0.975" stop-color="#34b679"/><stop offset="0.990" stop-color="#31b57b"/></linearGradient><linearGradient id="g119" gradientUnits="userSpaceOnUse" x1="534" x2="734" y1="0" y2="0"><stop offset="0.000" stop-color="#2c718e"/><stop offset="0.030" stop-color="#2d708e"/><stop offset="0.075" stop-color="#297b8e"/><stop offset="0.285" stop-color="#1e9d89"/><stop offset="0.375" stop-color="#22a884"/><stop offset="0.525" stop-color="#35b779"/><stop offset="0.600" stop-color="#4ec36b"/><stop offset="0.795" stop-color="#8bd646"/><stop offset="0.855" stop-color="#9dd93b"/><stop offset="0.885" stop-color="#81d34d"/><stop offset="0.915" stop-color="#63cb5f"/><stop offset="0.960" stop-color="#3dbc74"/><stop offset="0.975" stop-color="#32b67a"/><stop offset="0.990" stop-color="#2fb47c"/></linearGradient><linearGradient id="g120" gradientUnits="userSpaceOnUse" x1="535" x2="735" y1="0" y2="0"><stop offset="0.000" stop-color="#2c718e"/><stop offset="0.030" stop-color="#2d708e"/><stop offset="0.090" stop-color="#287d8e"/><stop offset="0.300" stop-color="#1f9f88"/><stop offset="0.435" stop-color="#27ad81"/><stop offset="0.525" stop-color="#34b679"/><stop offset="0.600" stop-color="#4cc26c"/><stop offset="0.660" stop-color="#60ca60"/><stop offset="0.795" stop-color="#89d548"/><stop offset="0.855" stop-color="#9bd93c"/><stop offset="0.915" stop-color="#60ca60"/><stop offset="0.960" stop-color="#3bbb75"/><stop offset="0.975" stop-color="#31b57b"/><stop offset="0.990" stop-color="#2fb47c"/></linearGradient><linearGradient id="g121" gradientUnits="userSpaceOnUse" x1="536" x2="736" y1="0" y2="0"><stop offset="0.000" stop-color="#2c718e"/><stop offset="0.030" stop-color="#2e6e8e"/><stop offset="0.075" stop-color="#297a8e"/><stop offset="0.300" stop-color="#1f9e89"/><stop offset="0.420" stop-color="#25ac82"/><stop offset="0.525" stop-color="#34b679"/><stop offset="0.600" stop-color="#4cc26c"/><stop offset="0.675" stop-color="#65cb5e"/><stop offset="0.780" stop-color="#81d34d"/><stop offset="0.855" stop-color="#9bd93c"/><stop offset="0.915" stop-color="#5ec962"/><stop offset="0.945" stop-color="#44bf70"/><stop offset="0.975" stop-color="#2fb47c"/><stop offset="0.990" stop-color="#2eb37c"/></linearGradient><linearGradient id="g122" gradientUnits="userSpaceOnUse" x1="538" x2="736" y1="0" y2="0"><stop offset="0.000" stop-color="#2c718e"/><stop offset="0.030" stop-color="#2e6f8e"/><stop offset="0.091" stop-color="#287c8e"/><stop offset="0.303" stop-color="#1f9e89"/><stop offset="0.439" stop-color="#26ad81"/><stop offset="0.515" stop-color="#31b57b"/><stop offset="0.591" stop-color="#48c16e"/><stop offset="0.667" stop-color="#60ca60"/><stop offset="0.788" stop-color="#81d34d"/><stop offset="0.848" stop-color="#93d741"/><stop offset="0.864" stop-color="#93d741"/><stop offset="0.909" stop-color="#65cb5e"/><stop offset="0.955" stop-color="#3fbc73"/><stop offset="0.970" stop-color="#34b679"/><stop offset="0.985" stop-color="#2db27d"/><stop offset="1.000" stop-color="#2db27d"/></linearGradient><linearGradient id="g123" gradientUnits="userSpaceOnUse" x1="540" x2="737" y1="0" y2="0"><stop offset="0.000" stop-color="#2c718e"/><stop offset="0.030" stop-color="#2e6f8e"/><stop offset="0.091" stop-color="#287c8e"/><stop offset="0.305" stop-color="#1f9e89"/><stop offset="0.442" stop-color="#26ad81"/><stop offset="0.518" stop-color="#32b67a"/><stop offset="0.594" stop-color="#4ac16d"/><stop offset="0.655" stop-color="#5ec962"/><stop offset="0.761" stop-color="#77d153"/><stop offset="0.853" stop-color="#93d741"/><stop offset="0.868" stop-color="#8bd646"/><stop offset="0.929" stop-color="#50c46a"/><stop offset="0.975" stop-color="#2fb47c"/><stop offset="0.990" stop-color="#2db27d"/></linearGradient><linearGradient id="g124" gradientUnits="userSpaceOnUse" x1="542" x2="738" y1="0" y2="0"><stop offset="0.000" stop-color="#2c718e"/><stop offset="0.031" stop-color="#2d708e"/><stop offset="0.107" stop-color="#277e8e"/><stop offset="0.306" stop-color="#1e9d89"/><stop offset="0.444" stop-color="#26ad81"/><stop offset="0.520" stop-color="#34b679"/><stop offset="0.597" stop-color="#4cc26c"/><stop offset="0.689" stop-color="#65cb5e"/><stop offset="0.750" stop-color="#73d056"/><stop offset="0.857" stop-color="#93d741"/><stop offset="0.903" stop-color="#65cb5e"/><stop offset="0.949" stop-color="#3fbc73"/><stop offset="0.980" stop-color="#2cb17e"/><stop offset="0.995" stop-color="#2cb17e"/></linearGradient><linearGradient id="g125" gradientUnits="userSpaceOnUse" x1="544" x2="739" y1="0" y2="0"><stop offset="0.000" stop-color="#2c718e"/><stop offset="0.031" stop-color="#2d708e"/><stop offset="0.108" stop-color="#277e8e"/><stop offset="0.308" stop-color="#1e9d89"/><stop offset="0.446" stop-color="#26ad81"/><stop offset="0.508" stop-color="#31b57b"/><stop offset="0.646" stop-color="#5cc863"/><stop offset="0.754" stop-color="#73d056"/><stop offset="0.846" stop-color="#8ed645"/><stop offset="0.862" stop-color="#8bd646"/><stop offset="0.892" stop-color="#6ccd5a"/><stop offset="0.938" stop-color="#44bf70"/><stop offset="0.969" stop-color="#2fb47c"/><stop offset="0.985" stop-color="#2ab07f"/><stop offset="1.000" stop-color="#2ab07f"/></linearGradient><linearGradient id="g126" gradientUnits="userSpaceOnUse" x1="546" x2="740" y1="0" y2="0"><stop offset="0.000" stop-color="#2c728e"/><stop offset="0.031" stop-color="#2d708e"/><stop offset="0.093" stop-color="#287c8e"/><stop offset="0.216" stop-color="#218f8d"/><stop offset="0.356" stop-color="#1fa287"/><stop offset="0.479" stop-color="#2cb17e"/><stop offset="0.557" stop-color="#40bd72"/><stop offset="0.649" stop-color="#5cc863"/><stop offset="0.742" stop-color="#6ece58"/><stop offset="0.851" stop-color="#8ed645"/><stop offset="0.866" stop-color="#84d44b"/><stop offset="0.912" stop-color="#56c667"/><stop offset="0.959" stop-color="#34b679"/><stop offset="0.974" stop-color="#2cb17e"/><stop offset="0.990" stop-color="#2ab07f"/></linearGradient><linearGradient id="g127" gradientUnits="userSpaceOnUse" x1="547" x2="740" y1="0" y2="0"><stop offset="0.000" stop-color="#2c728e"/><stop offset="0.031" stop-color="#2e6f8e"/><stop offset="0.093" stop-color="#297b8e"/><stop offset="0.218" stop-color="#218e8d"/><stop offset="0.358" stop-color="#1fa287"/><stop offset="0.482" stop-color="#2ab07f"/><stop offset="0.637" stop-color="#58c765"/><stop offset="0.746" stop-color="#6ccd5a"/><stop offset="0.855" stop-color="#8bd646"/><stop offset="0.870" stop-color="#81d34d"/><stop offset="0.933" stop-color="#48c16e"/><stop offset="0.964" stop-color="#32b67a"/><stop offset="0.979" stop-color="#2ab07f"/><stop offset="0.995" stop-color="#29af7f"/></linearGradient><linearGradient id="g128" gradientUnits="userSpaceOnUse" x1="549" x2="741" y1="0" y2="0"><stop offset="0.000" stop-color="#2c728e"/><stop offset="0.031" stop-color="#2e6f8e"/><stop offset="0.094" stop-color="#297a8e"/><stop offset="0.312" stop-color="#1e9c89"/><stop offset="0.453" stop-color="#26ad81"/><stop offset="0.531" stop-color="#37b878"/><stop offset="0.641" stop-color="#58c765"/><stop offset="0.766" stop-color="#6ece58"/><stop offset="0.859" stop-color="#89d548"/><stop offset="0.875" stop-color="#7cd250"/><stop offset="0.922" stop-color="#50c46a"/><stop offset="0.969" stop-color="#2eb37c"/><stop offset="0.984" stop-color="#29af7f"/><stop offset="1.000" stop-color="#29af7f"/></linearGradient><linearGradient id="g129" gradientUnits="userSpaceOnUse" x1="551" x2="742" y1="0" y2="0"><stop offset="0.000" stop-color="#2c728e"/><stop offset="0.031" stop-color="#2e6f8e"/><stop offset="0.094" stop-color="#297a8e"/><stop offset="0.314" stop-color="#1e9c89"/><stop offset="0.440" stop-color="#25ac82"/><stop offset="0.518" stop-color="#34b679"/><stop offset="0.644" stop-color="#58c765"/><stop offset="0.770" stop-color="#6ece58"/><stop offset="0.864" stop-color="#86d549"/><stop offset="0.911" stop-color="#58c765"/><stop offset="0.958" stop-color="#34b679"/><stop offset="0.974" stop-color="#2cb17e"/><stop offset="0.990" stop-color="#28ae80"/></linearGradient><linearGradient id="g130" gradientUnits="userSpaceOnUse" x1="553" x2="743" y1="0" y2="0"><stop offset="0.000" stop-color="#2c718e"/><stop offset="0.032" stop-color="#2e6f8e"/><stop offset="0.095" stop-color="#297a8e"/><stop offset="0.253" stop-color="#20928c"/><stop offset="0.379" stop-color="#20a486"/><stop offset="0.474" stop-color="#2ab07f"/><stop offset="0.568" stop-color="#42be71"/><stop offset="0.663" stop-color="#5ac864"/><stop offset="0.758" stop-color="#69cd5b"/><stop offset="0.853" stop-color="#81d34d"/><stop offset="0.868" stop-color="#81d34d"/><stop offset="0.916" stop-color="#54c568"/><stop offset="0.963" stop-color="#2fb47c"/><stop offset="0.979" stop-color="#28ae80"/><stop offset="0.995" stop-color="#28ae80"/></linearGradient><linearGradient id="g131" gradientUnits="userSpaceOnUse" x1="555" x2="744" y1="0" y2="0"><stop offset="0.000" stop-color="#2c718e"/><stop offset="0.032" stop-color="#2d708e"/><stop offset="0.127" stop-color="#277e8e"/><stop offset="0.317" stop-color="#1e9c89"/><stop offset="0.429" stop-color="#24aa83"/><stop offset="0.508" stop-color="#32b67a"/><stop offset="0.635" stop-color="#54c568"/><stop offset="0.778" stop-color="#6ccd5a"/><stop offset="0.857" stop-color="#81d34d"/><stop offset="0.873" stop-color="#7cd250"/><stop offset="0.921" stop-color="#4ec36b"/><stop offset="0.968" stop-color="#2cb17e"/><stop offset="1.000" stop-color="#28ae80"/></linearGradient><linearGradient id="g132" gradientUnits="userSpaceOnUse" x1="557" x2="745" y1="0" y2="0"><stop offset="0.000" stop-color="#2c718e"/><stop offset="0.032" stop-color="#2d708e"/><stop offset="0.128" stop-color="#277e8e"/><stop offset="0.335" stop-color="#1f9f88"/><stop offset="0.447" stop-color="#25ac82"/><stop offset="0.543" stop-color="#3bbb75"/><stop offset="0.638" stop-color="#52c569"/><stop offset="0.782" stop-color="#6ccd5a"/><stop offset="0.862" stop-color="#7fd34e"/><stop offset="0.878" stop-color="#75d054"/><stop offset="0.926" stop-color="#48c16e"/><stop offset="0.957" stop-color="#31b57b"/><stop offset="0.973" stop-color="#28ae80"/><stop offset="0.989" stop-color="#27ad81"/></linearGradient><linearGradient id="g133" gradientUnits="userSpaceOnUse" x1="559" x2="745" y1="0" y2="0"><stop offset="0.000" stop-color="#2c718e"/><stop offset="0.032" stop-color="#2d708e"/><stop offset="0.129" stop-color="#277e8e"/><stop offset="0.339" stop-color="#1f9f88"/><stop offset="0.452" stop-color="#25ac82"/><stop offset="0.597" stop-color="#48c16e"/><stop offset="0.774" stop-color="#67cc5c"/><stop offset="0.871" stop-color="#7cd250"/><stop offset="0.903" stop-color="#60ca60"/><stop offset="0.952" stop-color="#38b977"/><stop offset="0.968" stop-color="#2db27d"/><stop offset="0.984" stop-color="#27ad81"/><stop offset="1.000" stop-color="#27ad81"/></linearGradient><linearGradient id="g134" gradientUnits="userSpaceOnUse" x1="561" x2="746" y1="0" y2="0"><stop offset="0.000" stop-color="#2c718e"/><stop offset="0.032" stop-color="#2d708e"/><stop offset="0.130" stop-color="#277e8e"/><stop offset="0.341" stop-color="#1f9f88"/><stop offset="0.438" stop-color="#23a983"/><stop offset="0.551" stop-color="#3bbb75"/><stop offset="0.632" stop-color="#4ec36b"/><stop offset="0.714" stop-color="#5ac864"/><stop offset="0.795" stop-color="#69cd5b"/><stop offset="0.876" stop-color="#7cd250"/><stop offset="0.924" stop-color="#4cc26c"/><stop offset="0.973" stop-color="#29af7f"/><stop offset="0.989" stop-color="#27ad81"/></linearGradient><linearGradient id="g135" gradientUnits="userSpaceOnUse" x1="563" x2="747" y1="0" y2="0"><stop offset="0.000" stop-color="#2c718e"/><stop offset="0.033" stop-color="#2e6f8e"/><stop offset="0.098" stop-color="#297a8e"/><stop offset="0.277" stop-color="#20928c"/><stop offset="0.359" stop-color="#1fa088"/><stop offset="0.440" stop-color="#23a983"/><stop offset="0.587" stop-color="#42be71"/><stop offset="0.799" stop-color="#67cc5c"/><stop offset="0.864" stop-color="#77d153"/><stop offset="0.880" stop-color="#77d153"/><stop offset="0.913" stop-color="#56c667"/><stop offset="0.946" stop-color="#3aba76"/><stop offset="0.978" stop-color="#26ad81"/><stop offset="0.995" stop-color="#26ad81"/></linearGradient><linearGradient id="g136" gradientUnits="userSpaceOnUse" x1="565" x2="748" y1="0" y2="0"><stop offset="0.000" stop-color="#2c728e"/><stop offset="0.033" stop-color="#2e6f8e"/><stop offset="0.098" stop-color="#297a8e"/><stop offset="0.262" stop-color="#21918c"/><stop offset="0.410" stop-color="#20a486"/><stop offset="0.492" stop-color="#2cb17e"/><stop offset="0.607" stop-color="#44bf70"/><stop offset="0.721" stop-color="#56c667"/><stop offset="0.869" stop-color="#75d054"/><stop offset="0.885" stop-color="#6ece58"/><stop offset="0.918" stop-color="#4ec36b"/><stop offset="0.967" stop-color="#2ab07f"/><stop offset="0.984" stop-color="#26ad81"/><stop offset="1.000" stop-color="#26ad81"/></linearGradient><linearGradient id="g137" gradientUnits="userSpaceOnUse" x1="567" x2="749" y1="0" y2="0"><stop offset="0.000" stop-color="#2c728e"/><stop offset="0.033" stop-color="#2e6f8e"/><stop offset="0.099" stop-color="#297a8e"/><stop offset="0.264" stop-color="#21918c"/><stop offset="0.412" stop-color="#20a486"/><stop offset="0.495" stop-color="#2ab07f"/><stop offset="0.610" stop-color="#42be71"/><stop offset="0.742" stop-color="#58c765"/><stop offset="0.857" stop-color="#70cf57"/><stop offset="0.874" stop-color="#73d056"/><stop offset="0.890" stop-color="#67cc5c"/><stop offset="0.923" stop-color="#48c16e"/><stop offset="0.956" stop-color="#2fb47c"/><stop offset="0.973" stop-color="#27ad81"/><stop offset="0.989" stop-color="#26ad81"/></linearGradient><linearGradient id="g138" gradientUnits="userSpaceOnUse" x1="569" x2="749" y1="0" y2="0"><stop offset="0.000" stop-color="#2c728e"/><stop offset="0.033" stop-color="#2e6f8e"/><stop offset="0.100" stop-color="#297b8e"/><stop offset="0.250" stop-color="#218e8d"/><stop offset="0.400" stop-color="#1fa187"/><stop offset="0.500" stop-color="#29af7f"/><stop offset="0.600" stop-color="#3dbc74"/><stop offset="0.767" stop-color="#5ac864"/><stop offset="0.833" stop-color="#69cd5b"/><stop offset="0.883" stop-color="#70cf57"/><stop offset="0.917" stop-color="#50c46a"/><stop offset="0.950" stop-color="#35b779"/><stop offset="0.983" stop-color="#25ac82"/><stop offset="1.000" stop-color="#25ac82"/></linearGradient><linearGradient id="g139" gradientUnits="userSpaceOnUse" x1="571" x2="750" y1="0" y2="0"><stop offset="0.000" stop-color="#2c728e"/><stop offset="0.034" stop-color="#2e6f8e"/><stop offset="0.117" stop-color="#287d8e"/><stop offset="0.268" stop-color="#21908d"/><stop offset="0.419" stop-color="#20a386"/><stop offset="0.520" stop-color="#2cb17e"/><stop offset="0.737" stop-color="#52c569"/><stop offset="0.821" stop-color="#65cb5e"/><stop offset="0.872" stop-color="#6ece58"/><stop offset="0.888" stop-color="#67cc5c"/><stop offset="0.939" stop-color="#3bbb75"/><stop offset="0.972" stop-color="#28ae80"/><stop offset="0.989" stop-color="#25ac82"/></linearGradient><linearGradient id="g140" gradientUnits="userSpaceOnUse" x1="573" x2="751" y1="0" y2="0"><stop offset="0.000" stop-color="#2c728e"/><stop offset="0.034" stop-color="#2e6f8e"/><stop offset="0.118" stop-color="#287d8e"/><stop offset="0.253" stop-color="#228d8d"/><stop offset="0.421" stop-color="#1fa287"/><stop offset="0.506" stop-color="#27ad81"/><stop offset="0.725" stop-color="#4cc26c"/><stop offset="0.843" stop-color="#67cc5c"/><stop offset="0.876" stop-color="#6ccd5a"/><stop offset="0.893" stop-color="#60ca60"/><stop offset="0.927" stop-color="#42be71"/><stop offset="0.961" stop-color="#2db27d"/><stop offset="0.978" stop-color="#25ac82"/><stop offset="0.994" stop-color="#25ac82"/></linearGradient><linearGradient id="g141" gradientUnits="userSpaceOnUse" x1="575" x2="752" y1="0" y2="0"><stop offset="0.000" stop-color="#2c728e"/><stop offset="0.034" stop-color="#2d708e"/><stop offset="0.102" stop-color="#297b8e"/><stop offset="0.271" stop-color="#218e8d"/><stop offset="0.441" stop-color="#1fa287"/><stop offset="0.542" stop-color="#2ab07f"/><stop offset="0.678" stop-color="#3fbc73"/><stop offset="0.847" stop-color="#65cb5e"/><stop offset="0.881" stop-color="#69cd5b"/><stop offset="0.915" stop-color="#4ac16d"/><stop offset="0.966" stop-color="#29af7f"/><stop offset="0.983" stop-color="#25ab82"/><stop offset="1.000" stop-color="#25ab82"/></linearGradient><linearGradient id="g142" gradientUnits="userSpaceOnUse" x1="577" x2="753" y1="0" y2="0"><stop offset="0.000" stop-color="#2c728e"/><stop offset="0.034" stop-color="#2d708e"/><stop offset="0.102" stop-color="#297b8e"/><stop offset="0.256" stop-color="#238a8d"/><stop offset="0.443" stop-color="#1fa188"/><stop offset="0.562" stop-color="#29af7f"/><stop offset="0.699" stop-color="#3fbc73"/><stop offset="0.852" stop-color="#63cb5f"/><stop offset="0.869" stop-color="#65cb5e"/><stop offset="0.886" stop-color="#60ca60"/><stop offset="0.938" stop-color="#38b977"/><stop offset="0.972" stop-color="#25ac82"/><stop offset="0.989" stop-color="#25ab82"/></linearGradient><linearGradient id="g143" gradientUnits="userSpaceOnUse" x1="579" x2="753" y1="0" y2="0"><stop offset="0.000" stop-color="#2c728e"/><stop offset="0.034" stop-color="#2d718e"/><stop offset="0.103" stop-color="#297a8e"/><stop offset="0.293" stop-color="#228d8d"/><stop offset="0.483" stop-color="#1fa287"/><stop offset="0.621" stop-color="#2db27d"/><stop offset="0.741" stop-color="#44bf70"/><stop offset="0.810" stop-color="#58c765"/><stop offset="0.879" stop-color="#63cb5f"/><stop offset="0.897" stop-color="#5ac864"/><stop offset="0.931" stop-color="#3dbc74"/><stop offset="0.966" stop-color="#29af7f"/><stop offset="0.983" stop-color="#25ab82"/><stop offset="1.000" stop-color="#25ab82"/></linearGradient><linearGradient id="g144" gradientUnits="userSpaceOnUse" x1="580" x2="754" y1="0" y2="0"><stop offset="0.000" stop-color="#2c728e"/><stop offset="0.034" stop-color="#2d708e"/><stop offset="0.103" stop-color="#297a8e"/><stop offset="0.276" stop-color="#23888e"/><stop offset="0.500" stop-color="#1fa187"/><stop offset="0.638" stop-color="#2cb17e"/><stop offset="0.724" stop-color="#3dbc74"/><stop offset="0.828" stop-color="#58c765"/><stop offset="0.879" stop-color="#60ca60"/><stop offset="0.948" stop-color="#32b67a"/><stop offset="0.966" stop-color="#29af7f"/><stop offset="0.983" stop-color="#25ab82"/><stop offset="1.000" stop-color="#25ab82"/></linearGradient><linearGradient id="g145" gradientUnits="userSpaceOnUse" x1="582" x2="755" y1="0" y2="0"><stop offset="0.000" stop-color="#2c728e"/><stop offset="0.035" stop-color="#2d708e"/><stop offset="0.104" stop-color="#297a8e"/><stop offset="0.277" stop-color="#24878e"/><stop offset="0.503" stop-color="#1fa088"/><stop offset="0.642" stop-color="#2ab07f"/><stop offset="0.728" stop-color="#3bbb75"/><stop offset="0.850" stop-color="#5ac864"/><stop offset="0.884" stop-color="#5ec962"/><stop offset="0.919" stop-color="#42be71"/><stop offset="0.971" stop-color="#26ad81"/><stop offset="0.988" stop-color="#25ab82"/></linearGradient><linearGradient id="g146" gradientUnits="userSpaceOnUse" x1="583" x2="756" y1="0" y2="0"><stop offset="0.000" stop-color="#2c728e"/><stop offset="0.035" stop-color="#2e6f8e"/><stop offset="0.087" stop-color="#2a788e"/><stop offset="0.295" stop-color="#24878e"/><stop offset="0.520" stop-color="#1fa088"/><stop offset="0.659" stop-color="#2ab07f"/><stop offset="0.763" stop-color="#42be71"/><stop offset="0.867" stop-color="#5ac864"/><stop offset="0.884" stop-color="#5cc863"/><stop offset="0.919" stop-color="#40bd72"/><stop offset="0.954" stop-color="#2db27d"/><stop offset="0.971" stop-color="#26ad81"/><stop offset="0.988" stop-color="#25ab82"/></linearGradient><linearGradient id="g147" gradientUnits="userSpaceOnUse" x1="585" x2="757" y1="0" y2="0"><stop offset="0.000" stop-color="#2c728e"/><stop offset="0.035" stop-color="#2e6f8e"/><stop offset="0.087" stop-color="#2a778e"/><stop offset="0.297" stop-color="#24868e"/><stop offset="0.541" stop-color="#1fa188"/><stop offset="0.663" stop-color="#2ab07f"/><stop offset="0.767" stop-color="#42be71"/><stop offset="0.855" stop-color="#56c667"/><stop offset="0.872" stop-color="#58c765"/><stop offset="0.890" stop-color="#54c568"/><stop offset="0.942" stop-color="#32b67a"/><stop offset="0.959" stop-color="#29af7f"/><stop offset="0.977" stop-color="#25ab82"/><stop offset="0.994" stop-color="#25ab82"/></linearGradient><linearGradient id="g148" gradientUnits="userSpaceOnUse" x1="587" x2="757" y1="0" y2="0"><stop offset="0.000" stop-color="#2c728e"/><stop offset="0.035" stop-color="#2d708e"/><stop offset="0.124" stop-color="#29798e"/><stop offset="0.300" stop-color="#25858e"/><stop offset="0.547" stop-color="#1fa188"/><stop offset="0.671" stop-color="#29af7f"/><stop offset="0.829" stop-color="#4ec36b"/><stop offset="0.882" stop-color="#58c765"/><stop offset="0.953" stop-color="#2eb37c"/><stop offset="0.971" stop-color="#27ad81"/><stop offset="0.988" stop-color="#25ab82"/></linearGradient><linearGradient id="g149" gradientUnits="userSpaceOnUse" x1="588" x2="758" y1="0" y2="0"><stop offset="0.000" stop-color="#2c728e"/><stop offset="0.035" stop-color="#2e6e8e"/><stop offset="0.124" stop-color="#2a778e"/><stop offset="0.371" stop-color="#228b8d"/><stop offset="0.565" stop-color="#1fa187"/><stop offset="0.671" stop-color="#28ae80"/><stop offset="0.829" stop-color="#4cc26c"/><stop offset="0.882" stop-color="#56c667"/><stop offset="0.953" stop-color="#2db27d"/><stop offset="0.971" stop-color="#26ad81"/><stop offset="0.988" stop-color="#25ab82"/></linearGradient><linearGradient id="g150" gradientUnits="userSpaceOnUse" x1="591" x2="759" y1="0" y2="0"><stop offset="0.000" stop-color="#2c718e"/><stop offset="0.054" stop-color="#2d708e"/><stop offset="0.411" stop-color="#218f8d"/><stop offset="0.571" stop-color="#1fa187"/><stop offset="0.679" stop-color="#29af7f"/><stop offset="0.839" stop-color="#4cc26c"/><stop offset="0.875" stop-color="#52c569"/><stop offset="0.893" stop-color="#4ec36b"/><stop offset="0.946" stop-color="#2fb47c"/><stop offset="0.982" stop-color="#25ab82"/><stop offset="1.000" stop-color="#25ab82"/></linearGradient><linearGradient id="g151" gradientUnits="userSpaceOnUse" x1="596" x2="760" y1="0" y2="0"><stop offset="0.000" stop-color="#2c718e"/><stop offset="0.055" stop-color="#2e6f8e"/><stop offset="0.402" stop-color="#218f8d"/><stop offset="0.585" stop-color="#20a386"/><stop offset="0.695" stop-color="#2cb17e"/><stop offset="0.841" stop-color="#4cc26c"/><stop offset="0.878" stop-color="#52c569"/><stop offset="0.951" stop-color="#2cb17e"/><stop offset="0.970" stop-color="#25ac82"/><stop offset="0.988" stop-color="#25ab82"/></linearGradient><linearGradient id="g152" gradientUnits="userSpaceOnUse" x1="602" x2="761" y1="0" y2="0"><stop offset="0.000" stop-color="#2c718e"/><stop offset="0.057" stop-color="#2e6f8e"/><stop offset="0.491" stop-color="#1f998a"/><stop offset="0.623" stop-color="#22a884"/><stop offset="0.698" stop-color="#2db27d"/><stop offset="0.849" stop-color="#4ac16d"/><stop offset="0.868" stop-color="#4ec36b"/><stop offset="0.887" stop-color="#4ac16d"/><stop offset="0.943" stop-color="#2eb37c"/><stop offset="0.962" stop-color="#27ad81"/><stop offset="1.000" stop-color="#25ab82"/></linearGradient><linearGradient id="g153" gradientUnits="userSpaceOnUse" x1="610" x2="762" y1="0" y2="0"><stop offset="0.000" stop-color="#2c718e"/><stop offset="0.079" stop-color="#2c718e"/><stop offset="0.513" stop-color="#1e9c89"/><stop offset="0.651" stop-color="#25ac82"/><stop offset="0.829" stop-color="#46c06f"/><stop offset="0.868" stop-color="#4cc26c"/><stop offset="0.947" stop-color="#2cb17e"/><stop offset="0.967" stop-color="#25ac82"/><stop offset="0.987" stop-color="#25ab82"/></linearGradient><linearGradient id="g154" gradientUnits="userSpaceOnUse" x1="617" x2="762" y1="0" y2="0"><stop offset="0.000" stop-color="#2c718e"/><stop offset="0.062" stop-color="#2d708e"/><stop offset="0.186" stop-color="#277f8e"/><stop offset="0.538" stop-color="#1fa088"/><stop offset="0.641" stop-color="#25ab82"/><stop offset="0.828" stop-color="#42be71"/><stop offset="0.869" stop-color="#48c16e"/><stop offset="0.890" stop-color="#44bf70"/><stop offset="0.931" stop-color="#32b67a"/><stop offset="0.972" stop-color="#25ac82"/><stop offset="0.993" stop-color="#25ac82"/></linearGradient><linearGradient id="g155" gradientUnits="userSpaceOnUse" x1="622" x2="763" y1="0" y2="0"><stop offset="0.000" stop-color="#2c728e"/><stop offset="0.043" stop-color="#2d708e"/><stop offset="0.234" stop-color="#25838e"/><stop offset="0.532" stop-color="#1f9f88"/><stop offset="0.660" stop-color="#26ad81"/><stop offset="0.851" stop-color="#44bf70"/><stop offset="0.872" stop-color="#46c06f"/><stop offset="0.957" stop-color="#29af7f"/><stop offset="1.000" stop-color="#25ac82"/></linearGradient><linearGradient id="g156" gradientUnits="userSpaceOnUse" x1="625" x2="764" y1="0" y2="0"><stop offset="0.000" stop-color="#2c738e"/><stop offset="0.043" stop-color="#2d708e"/><stop offset="0.173" stop-color="#277f8e"/><stop offset="0.540" stop-color="#1f9f88"/><stop offset="0.647" stop-color="#25ab82"/><stop offset="0.842" stop-color="#40bd72"/><stop offset="0.885" stop-color="#40bd72"/><stop offset="0.950" stop-color="#2ab07f"/><stop offset="0.971" stop-color="#25ac82"/><stop offset="0.993" stop-color="#25ac82"/></linearGradient><linearGradient id="g157" gradientUnits="userSpaceOnUse" x1="628" x2="765" y1="0" y2="0"><stop offset="0.000" stop-color="#2c738e"/><stop offset="0.044" stop-color="#2e6f8e"/><stop offset="0.109" stop-color="#29798e"/><stop offset="0.526" stop-color="#1e9d89"/><stop offset="0.657" stop-color="#25ab82"/><stop offset="0.832" stop-color="#3bbb75"/><stop offset="0.876" stop-color="#42be71"/><stop offset="0.942" stop-color="#2db27d"/><stop offset="0.985" stop-color="#25ac82"/></linearGradient><linearGradient id="g158" gradientUnits="userSpaceOnUse" x1="630" x2="766" y1="0" y2="0"><stop offset="0.000" stop-color="#2c738e"/><stop offset="0.044" stop-color="#2e6f8e"/><stop offset="0.110" stop-color="#29798e"/><stop offset="0.529" stop-color="#1e9d89"/><stop offset="0.662" stop-color="#25ab82"/><stop offset="0.882" stop-color="#3fbc73"/><stop offset="0.949" stop-color="#2ab07f"/><stop offset="0.971" stop-color="#26ad81"/><stop offset="0.993" stop-color="#26ad81"/></linearGradient><linearGradient id="g159" gradientUnits="userSpaceOnUse" x1="632" x2="766" y1="0" y2="0"><stop offset="0.000" stop-color="#2c738e"/><stop offset="0.045" stop-color="#2e6f8e"/><stop offset="0.112" stop-color="#29798e"/><stop offset="0.537" stop-color="#1e9c89"/><stop offset="0.672" stop-color="#25ab82"/><stop offset="0.873" stop-color="#3bbb75"/><stop offset="0.896" stop-color="#3aba76"/><stop offset="0.963" stop-color="#28ae80"/><stop offset="0.985" stop-color="#26ad81"/></linearGradient><linearGradient id="g160" gradientUnits="userSpaceOnUse" x1="634" x2="767" y1="0" y2="0"><stop offset="0.000" stop-color="#2c728e"/><stop offset="0.045" stop-color="#2d708e"/><stop offset="0.135" stop-color="#297b8e"/><stop offset="0.564" stop-color="#1f9e89"/><stop offset="0.699" stop-color="#25ac82"/><stop offset="0.880" stop-color="#38b977"/><stop offset="0.902" stop-color="#37b878"/><stop offset="0.970" stop-color="#26ad81"/><stop offset="0.992" stop-color="#26ad81"/></linearGradient><linearGradient id="g161" gradientUnits="userSpaceOnUse" x1="636" x2="768" y1="0" y2="0"><stop offset="0.000" stop-color="#2c728e"/><stop offset="0.045" stop-color="#2d708e"/><stop offset="0.136" stop-color="#297b8e"/><stop offset="0.568" stop-color="#1f9e89"/><stop offset="0.727" stop-color="#27ad81"/><stop offset="0.886" stop-color="#37b878"/><stop offset="0.977" stop-color="#26ad81"/><stop offset="1.000" stop-color="#26ad81"/></linearGradient><linearGradient id="g162" gradientUnits="userSpaceOnUse" x1="638" x2="769" y1="0" y2="0"><stop offset="0.000" stop-color="#2c728e"/><stop offset="0.046" stop-color="#2d708e"/><stop offset="0.137" stop-color="#297b8e"/><stop offset="0.573" stop-color="#1f9e89"/><stop offset="0.733" stop-color="#26ad81"/><stop offset="0.893" stop-color="#35b779"/><stop offset="0.962" stop-color="#27ad81"/><stop offset="0.985" stop-color="#26ad81"/></linearGradient><linearGradient id="g163" gradientUnits="userSpaceOnUse" x1="640" x2="770" y1="0" y2="0"><stop offset="0.000" stop-color="#2c728e"/><stop offset="0.046" stop-color="#2d708e"/><stop offset="0.138" stop-color="#297b8e"/><stop offset="0.577" stop-color="#1e9d89"/><stop offset="0.762" stop-color="#27ad81"/><stop offset="0.900" stop-color="#32b67a"/><stop offset="0.969" stop-color="#25ac82"/><stop offset="0.992" stop-color="#25ac82"/></linearGradient><linearGradient id="g164" gradientUnits="userSpaceOnUse" x1="642" x2="770" y1="0" y2="0"><stop offset="0.000" stop-color="#2c728e"/><stop offset="0.047" stop-color="#2d708e"/><stop offset="0.141" stop-color="#297b8e"/><stop offset="0.609" stop-color="#1f9f88"/><stop offset="0.820" stop-color="#29af7f"/><stop offset="0.914" stop-color="#2eb37c"/><stop offset="0.984" stop-color="#25ac82"/></linearGradient><linearGradient id="g165" gradientUnits="userSpaceOnUse" x1="644" x2="771" y1="0" y2="0"><stop offset="0.000" stop-color="#2c728e"/><stop offset="0.047" stop-color="#2d708e"/><stop offset="0.142" stop-color="#297b8e"/><stop offset="0.614" stop-color="#1f9f88"/><stop offset="0.850" stop-color="#29af7f"/><stop offset="0.921" stop-color="#2cb17e"/><stop offset="0.969" stop-color="#25ac82"/><stop offset="0.992" stop-color="#25ac82"/></linearGradient><linearGradient id="g166" gradientUnits="userSpaceOnUse" x1="645" x2="772" y1="0" y2="0"><stop offset="0.000" stop-color="#2c728e"/><stop offset="0.047" stop-color="#2e6e8e"/><stop offset="0.118" stop-color="#2a788e"/><stop offset="0.614" stop-color="#1f9e89"/><stop offset="0.850" stop-color="#27ad81"/><stop offset="0.921" stop-color="#2ab07f"/><stop offset="0.992" stop-color="#25ab82"/></linearGradient><linearGradient id="g167" gradientUnits="userSpaceOnUse" x1="647" x2="773" y1="0" y2="0"><stop offset="0.000" stop-color="#2c728e"/><stop offset="0.048" stop-color="#2e6e8e"/><stop offset="0.119" stop-color="#2a788e"/><stop offset="0.619" stop-color="#1e9d89"/><stop offset="0.857" stop-color="#26ad81"/><stop offset="0.929" stop-color="#28ae80"/><stop offset="1.000" stop-color="#25ab82"/></linearGradient><linearGradient id="g168" gradientUnits="userSpaceOnUse" x1="649" x2="774" y1="0" y2="0"><stop offset="0.000" stop-color="#2c728e"/><stop offset="0.048" stop-color="#2e6e8e"/><stop offset="0.168" stop-color="#287c8e"/><stop offset="0.576" stop-color="#1f998a"/><stop offset="0.816" stop-color="#23a983"/><stop offset="0.912" stop-color="#28ae80"/><stop offset="0.984" stop-color="#25ab82"/></linearGradient><linearGradient id="g169" gradientUnits="userSpaceOnUse" x1="651" x2="774" y1="0" y2="0"><stop offset="0.000" stop-color="#2c728e"/><stop offset="0.049" stop-color="#2e6f8e"/><stop offset="0.146" stop-color="#297a8e"/><stop offset="0.659" stop-color="#1f9e89"/><stop offset="0.927" stop-color="#27ad81"/><stop offset="1.000" stop-color="#24aa83"/></linearGradient><linearGradient id="g170" gradientUnits="userSpaceOnUse" x1="654" x2="775" y1="0" y2="0"><stop offset="0.000" stop-color="#2c718e"/><stop offset="0.050" stop-color="#2e6e8e"/><stop offset="0.174" stop-color="#287c8e"/><stop offset="0.645" stop-color="#1e9c89"/><stop offset="0.917" stop-color="#25ac82"/><stop offset="0.992" stop-color="#23a983"/></linearGradient><linearGradient id="g171" gradientUnits="userSpaceOnUse" x1="657" x2="776" y1="0" y2="0"><stop offset="0.000" stop-color="#2c718e"/><stop offset="0.050" stop-color="#2e6f8e"/><stop offset="0.151" stop-color="#297a8e"/><stop offset="0.706" stop-color="#1f9f88"/><stop offset="0.933" stop-color="#25ab82"/><stop offset="0.983" stop-color="#23a983"/></linearGradient><linearGradient id="g172" gradientUnits="userSpaceOnUse" x1="659" x2="777" y1="0" y2="0"><stop offset="0.000" stop-color="#2c728e"/><stop offset="0.051" stop-color="#2e6f8e"/><stop offset="0.153" stop-color="#297a8e"/><stop offset="0.585" stop-color="#1f968b"/><stop offset="0.890" stop-color="#22a884"/><stop offset="0.992" stop-color="#22a884"/></linearGradient><linearGradient id="g173" gradientUnits="userSpaceOnUse" x1="662" x2="778" y1="0" y2="0"><stop offset="0.000" stop-color="#2c718e"/><stop offset="0.052" stop-color="#2e6f8e"/><stop offset="0.181" stop-color="#287c8e"/><stop offset="0.543" stop-color="#20928c"/><stop offset="0.853" stop-color="#21a585"/><stop offset="0.957" stop-color="#22a884"/><stop offset="0.983" stop-color="#22a785"/></linearGradient><linearGradient id="g174" gradientUnits="userSpaceOnUse" x1="665" x2="779" y1="0" y2="0"><stop offset="0.000" stop-color="#2c718e"/><stop offset="0.053" stop-color="#2e6f8e"/><stop offset="0.158" stop-color="#297a8e"/><stop offset="0.737" stop-color="#1f9e89"/><stop offset="0.947" stop-color="#22a884"/><stop offset="1.000" stop-color="#22a785"/></linearGradient><linearGradient id="g175" gradientUnits="userSpaceOnUse" x1="667" x2="779" y1="0" y2="0"><stop offset="0.000" stop-color="#2c718e"/><stop offset="0.054" stop-color="#2e6e8e"/><stop offset="0.161" stop-color="#29798e"/><stop offset="0.750" stop-color="#1e9d89"/><stop offset="0.938" stop-color="#22a785"/><stop offset="0.991" stop-color="#21a685"/></linearGradient><linearGradient id="g176" gradientUnits="userSpaceOnUse" x1="670" x2="780" y1="0" y2="0"><stop offset="0.000" stop-color="#2c718e"/><stop offset="0.055" stop-color="#2e6e8e"/><stop offset="0.164" stop-color="#297a8e"/><stop offset="0.655" stop-color="#1f978b"/><stop offset="0.982" stop-color="#21a685"/></linearGradient><linearGradient id="g177" gradientUnits="userSpaceOnUse" x1="673" x2="781" y1="0" y2="0"><stop offset="0.000" stop-color="#2c718e"/><stop offset="0.056" stop-color="#2e6f8e"/><stop offset="0.167" stop-color="#297a8e"/><stop offset="0.778" stop-color="#1e9d89"/><stop offset="1.000" stop-color="#21a685"/></linearGradient><linearGradient id="g178" gradientUnits="userSpaceOnUse" x1="674" x2="781" y1="0" y2="0"><stop offset="0.000" stop-color="#2c718e"/><stop offset="0.056" stop-color="#2d718e"/><stop offset="0.252" stop-color="#277e8e"/><stop offset="0.813" stop-color="#1e9d89"/><stop offset="0.981" stop-color="#21a685"/></linearGradient><linearGradient id="g179" gradientUnits="userSpaceOnUse" x1="674" x2="781" y1="0" y2="0"><stop offset="0.000" stop-color="#2c728e"/><stop offset="0.112" stop-color="#2a768e"/><stop offset="0.617" stop-color="#20928c"/><stop offset="0.953" stop-color="#1fa287"/><stop offset="0.981" stop-color="#21a685"/></linearGradient><clipPath id="cp"><polygon points="207.5,52.5 255.5,52.5 255.5,50.3 633.0,50.3 777.0,584.0 679.0,584.0 679.0,581.0 655.5,554.5 641.5,533.0 633.5,519.5 626.0,512.0 613.0,506.5 605.0,503.2 594.0,497.2 579.5,470.5 562.0,445.5 541.0,411.0 533.0,392.0 526.6,371.5 518.2,337.5 511.5,304.0 506.3,278.0 494.6,230.5 482.4,180.0 473.2,142.0 468.0,126.5 463.0,118.0 454.0,113.5 440.5,111.2 425.0,115.2 410.0,112.3 395.0,112.2 378.5,112.2 360.0,114.3 340.0,117.6 329.8,118.0 320.2,119.6 302.5,124.7 282.0,128.9 268.3,132.4 254.6,137.8 234.0,143.7 210.7,150.0 210.3,150.0 210.3,106.5 207.5,106.5"/></clipPath><linearGradient id="cb" x1="0" x2="0" y1="0" y2="1"><stop offset="0.000" stop-color="#fde725"/><stop offset="0.031" stop-color="#ece51b"/><stop offset="0.062" stop-color="#d8e219"/><stop offset="0.094" stop-color="#c2df23"/><stop offset="0.125" stop-color="#addc30"/><stop offset="0.156" stop-color="#98d83e"/><stop offset="0.188" stop-color="#84d44b"/><stop offset="0.219" stop-color="#70cf57"/><stop offset="0.250" stop-color="#5ec962"/><stop offset="0.281" stop-color="#4ec36b"/><stop offset="0.312" stop-color="#3fbc73"/><stop offset="0.344" stop-color="#32b67a"/><stop offset="0.375" stop-color="#28ae80"/><stop offset="0.406" stop-color="#22a785"/><stop offset="0.438" stop-color="#1fa088"/><stop offset="0.469" stop-color="#1f988b"/><stop offset="0.500" stop-color="#21918c"/><stop offset="0.531" stop-color="#23898e"/><stop offset="0.562" stop-color="#26828e"/><stop offset="0.594" stop-color="#297a8e"/><stop offset="0.625" stop-color="#2c728e"/><stop offset="0.656" stop-color="#2f6b8e"/><stop offset="0.688" stop-color="#33638d"/><stop offset="0.719" stop-color="#375b8d"/><stop offset="0.750" stop-color="#3b528b"/><stop offset="0.781" stop-color="#3e4989"/><stop offset="0.812" stop-color="#424086"/><stop offset="0.844" stop-color="#453781"/><stop offset="0.875" stop-color="#472d7b"/><stop offset="0.906" stop-color="#482374"/><stop offset="0.938" stop-color="#48186a"/><stop offset="0.969" stop-color="#470d60"/><stop offset="1.000" stop-color="#440154"/></linearGradient></defs>
<rect width="1025" height="771" fill="#fff"/>
<g clip-path="url(#cp)" shape-rendering="crispEdges"><rect x="251" y="48" width="387" height="3.6" fill="url(#g0)"/><rect x="203" y="51" width="435" height="3.6" fill="url(#g1)"/><rect x="203" y="54" width="436" height="3.6" fill="url(#g2)"/><rect x="203" y="57" width="437" height="3.6" fill="url(#g3)"/><rect x="203" y="60" width="438" height="3.6" fill="url(#g4)"/><rect x="203" y="63" width="439" height="3.6" fill="url(#g5)"/><rect x="203" y="66" width="440" height="3.6" fill="url(#g6)"/><rect x="203" y="69" width="440" height="3.6" fill="url(#g7)"/><rect x="203" y="72" width="441" height="3.6" fill="url(#g8)"/><rect x="203" y="75" width="442" height="3.6" fill="url(#g9)"/><rect x="203" y="78" width="443" height="3.6" fill="url(#g10)"/><rect x="203" y="81" width="444" height="3.6" fill="url(#g11)"/><rect x="203" y="84" width="444" height="3.6" fill="url(#g12)"/><rect x="203" y="87" width="445" height="3.6" fill="url(#g13)"/><rect x="203" y="90" width="446" height="3.6" fill="url(#g14)"/><rect x="203" y="93" width="447" height="3.6" fill="url(#g15)"/><rect x="203" y="96" width="448" height="3.6" fill="url(#g16)"/><rect x="203" y="99" width="448" height="3.6" fill="url(#g17)"/><rect x="203" y="102" width="449" height="3.6" fill="url(#g18)"/><rect x="203" y="105" width="450" height="3.6" fill="url(#g19)"/><rect x="206" y="108" width="448" height="3.6" fill="url(#g20)"/><rect x="206" y="111" width="449" height="3.6" fill="url(#g21)"/><rect x="206" y="114" width="449" height="3.6" fill="url(#g22)"/><rect x="206" y="117" width="450" height="3.6" fill="url(#g23)"/><rect x="206" y="120" width="451" height="3.6" fill="url(#g24)"/><rect x="206" y="123" width="452" height="3.6" fill="url(#g25)"/><rect x="206" y="126" width="453" height="3.6" fill="url(#g26)"/><rect x="206" y="129" width="454" height="3.6" fill="url(#g27)"/><rect x="206" y="132" width="454" height="3.6" fill="url(#g28)"/><rect x="206" y="135" width="455" height="3.6" fill="url(#g29)"/><rect x="206" y="138" width="456" height="3.6" fill="url(#g30)"/><rect x="206" y="141" width="457" height="3.6" fill="url(#g31)"/><rect x="206" y="144" width="458" height="3.6" fill="url(#g32)"/><rect x="206" y="147" width="458" height="3.6" fill="url(#g33)"/><rect x="471" y="150" width="194" height="3.6" fill="url(#g34)"/><rect x="471" y="153" width="195" height="3.6" fill="url(#g35)"/><rect x="472" y="156" width="195" height="3.6" fill="url(#g36)"/><rect x="473" y="159" width="195" height="3.6" fill="url(#g37)"/><rect x="474" y="162" width="194" height="3.6" fill="url(#g38)"/><rect x="474" y="165" width="195" height="3.6" fill="url(#g39)"/><rect x="475" y="168" width="195" height="3.6" fill="url(#g40)"/><rect x="476" y="171" width="195" height="3.6" fill="url(#g41)"/><rect x="476" y="174" width="196" height="3.6" fill="url(#g42)"/><rect x="477" y="177" width="195" height="3.6" fill="url(#g43)"/><rect x="478" y="180" width="195" height="3.6" fill="url(#g44)"/><rect x="479" y="183" width="195" height="3.6" fill="url(#g45)"/><rect x="479" y="186" width="196" height="3.6" fill="url(#g46)"/><rect x="480" y="189" width="196" height="3.6" fill="url(#g47)"/><rect x="481" y="192" width="196" height="3.6" fill="url(#g48)"/><rect x="482" y="195" width="195" height="3.6" fill="url(#g49)"/><rect x="482" y="198" width="196" height="3.6" fill="url(#g50)"/><rect x="483" y="201" width="196" height="3.6" fill="url(#g51)"/><rect x="484" y="204" width="196" height="3.6" fill="url(#g52)"/><rect x="484" y="207" width="197" height="3.6" fill="url(#g53)"/><rect x="485" y="210" width="196" height="3.6" fill="url(#g54)"/><rect x="486" y="213" width="196" height="3.6" fill="url(#g55)"/><rect x="487" y="216" width="196" height="3.6" fill="url(#g56)"/><rect x="487" y="219" width="197" height="3.6" fill="url(#g57)"/><rect x="488" y="222" width="197" height="3.6" fill="url(#g58)"/><rect x="489" y="225" width="196" height="3.6" fill="url(#g59)"/><rect x="489" y="228" width="197" height="3.6" fill="url(#g60)"/><rect x="490" y="231" width="197" height="3.6" fill="url(#g61)"/><rect x="491" y="234" width="197" height="3.6" fill="url(#g62)"/><rect x="492" y="237" width="197" height="3.6" fill="url(#g63)"/><rect x="492" y="240" width="197" height="3.6" fill="url(#g64)"/><rect x="493" y="243" width="197" height="3.6" fill="url(#g65)"/><rect x="494" y="246" width="197" height="3.6" fill="url(#g66)"/><rect x="495" y="249" width="197" height="3.6" fill="url(#g67)"/><rect x="495" y="252" width="198" height="3.6" fill="url(#g68)"/><rect x="496" y="255" width="198" height="3.6" fill="url(#g69)"/><rect x="497" y="258" width="197" height="3.6" fill="url(#g70)"/><rect x="498" y="261" width="197" height="3.6" fill="url(#g71)"/><rect x="498" y="264" width="198" height="3.6" fill="url(#g72)"/><rect x="499" y="267" width="198" height="3.6" fill="url(#g73)"/><rect x="500" y="270" width="198" height="3.6" fill="url(#g74)"/><rect x="501" y="273" width="197" height="3.6" fill="url(#g75)"/><rect x="501" y="276" width="198" height="3.6" fill="url(#g76)"/><rect x="502" y="279" width="198" height="3.6" fill="url(#g77)"/><rect x="503" y="282" width="198" height="3.6" fill="url(#g78)"/><rect x="503" y="285" width="199" height="3.6" fill="url(#g79)"/><rect x="504" y="288" width="198" height="3.6" fill="url(#g80)"/><rect x="504" y="291" width="199" height="3.6" fill="url(#g81)"/><rect x="505" y="294" width="199" height="3.6" fill="url(#g82)"/><rect x="506" y="297" width="199" height="3.6" fill="url(#g83)"/><rect x="506" y="300" width="200" height="3.6" fill="url(#g84)"/><rect x="507" y="303" width="199" height="3.6" fill="url(#g85)"/><rect x="507" y="306" width="200" height="3.6" fill="url(#g86)"/><rect x="508" y="309" width="200" height="3.6" fill="url(#g87)"/><rect x="509" y="312" width="200" height="3.6" fill="url(#g88)"/><rect x="509" y="315" width="201" height="3.6" fill="url(#g89)"/><rect x="510" y="318" width="201" height="3.6" fill="url(#g90)"/><rect x="510" y="321" width="201" height="3.6" fill="url(#g91)"/><rect x="511" y="324" width="201" height="3.6" fill="url(#g92)"/><rect x="512" y="327" width="201" height="3.6" fill="url(#g93)"/><rect x="512" y="330" width="202" height="3.6" fill="url(#g94)"/><rect x="513" y="333" width="202" height="3.6" fill="url(#g95)"/><rect x="513" y="336" width="202" height="3.6" fill="url(#g96)"/><rect x="514" y="339" width="202" height="3.6" fill="url(#g97)"/><rect x="515" y="342" width="202" height="3.6" fill="url(#g98)"/><rect x="516" y="345" width="202" height="3.6" fill="url(#g99)"/><rect x="516" y="348" width="203" height="3.6" fill="url(#g100)"/><rect x="517" y="351" width="202" height="3.6" fill="url(#g101)"/><rect x="518" y="354" width="202" height="3.6" fill="url(#g102)"/><rect x="519" y="357" width="202" height="3.6" fill="url(#g103)"/><rect x="519" y="360" width="203" height="3.6" fill="url(#g104)"/><rect x="520" y="363" width="203" height="3.6" fill="url(#g105)"/><rect x="521" y="366" width="202" height="3.6" fill="url(#g106)"/><rect x="521" y="369" width="203" height="3.6" fill="url(#g107)"/><rect x="522" y="372" width="203" height="3.6" fill="url(#g108)"/><rect x="523" y="375" width="203" height="3.6" fill="url(#g109)"/><rect x="524" y="378" width="203" height="3.6" fill="url(#g110)"/><rect x="525" y="381" width="203" height="3.6" fill="url(#g111)"/><rect x="526" y="384" width="202" height="3.6" fill="url(#g112)"/><rect x="527" y="387" width="202" height="3.6" fill="url(#g113)"/><rect x="528" y="390" width="202" height="3.6" fill="url(#g114)"/><rect x="529" y="393" width="202" height="3.6" fill="url(#g115)"/><rect x="530" y="396" width="202" height="3.6" fill="url(#g116)"/><rect x="531" y="399" width="201" height="3.6" fill="url(#g117)"/><rect x="533" y="402" width="200" height="3.6" fill="url(#g118)"/><rect x="534" y="405" width="200" height="3.6" fill="url(#g119)"/><rect x="535" y="408" width="200" height="3.6" fill="url(#g120)"/><rect x="536" y="411" width="200" height="3.6" fill="url(#g121)"/><rect x="538" y="414" width="198" height="3.6" fill="url(#g122)"/><rect x="540" y="417" width="197" height="3.6" fill="url(#g123)"/><rect x="542" y="420" width="196" height="3.6" fill="url(#g124)"/><rect x="544" y="423" width="195" height="3.6" fill="url(#g125)"/><rect x="546" y="426" width="194" height="3.6" fill="url(#g126)"/><rect x="547" y="429" width="193" height="3.6" fill="url(#g127)"/><rect x="549" y="432" width="192" height="3.6" fill="url(#g128)"/><rect x="551" y="435" width="191" height="3.6" fill="url(#g129)"/><rect x="553" y="438" width="190" height="3.6" fill="url(#g130)"/><rect x="555" y="441" width="189" height="3.6" fill="url(#g131)"/><rect x="557" y="444" width="188" height="3.6" fill="url(#g132)"/><rect x="559" y="447" width="186" height="3.6" fill="url(#g133)"/><rect x="561" y="450" width="185" height="3.6" fill="url(#g134)"/><rect x="563" y="453" width="184" height="3.6" fill="url(#g135)"/><rect x="565" y="456" width="183" height="3.6" fill="url(#g136)"/><rect x="567" y="459" width="182" height="3.6" fill="url(#g137)"/><rect x="569" y="462" width="180" height="3.6" fill="url(#g138)"/><rect x="571" y="465" width="179" height="3.6" fill="url(#g139)"/><rect x="573" y="468" width="178" height="3.6" fill="url(#g140)"/><rect x="575" y="471" width="177" height="3.6" fill="url(#g141)"/><rect x="577" y="474" width="176" height="3.6" fill="url(#g142)"/><rect x="579" y="477" width="174" height="3.6" fill="url(#g143)"/><rect x="580" y="480" width="174" height="3.6" fill="url(#g144)"/><rect x="582" y="483" width="173" height="3.6" fill="url(#g145)"/><rect x="583" y="486" width="173" height="3.6" fill="url(#g146)"/><rect x="585" y="489" width="172" height="3.6" fill="url(#g147)"/><rect x="587" y="492" width="170" height="3.6" fill="url(#g148)"/><rect x="588" y="495" width="170" height="3.6" fill="url(#g149)"/><rect x="591" y="498" width="168" height="3.6" fill="url(#g150)"/><rect x="596" y="501" width="164" height="3.6" fill="url(#g151)"/><rect x="602" y="504" width="159" height="3.6" fill="url(#g152)"/><rect x="610" y="507" width="152" height="3.6" fill="url(#g153)"/><rect x="617" y="510" width="145" height="3.6" fill="url(#g154)"/><rect x="622" y="513" width="141" height="3.6" fill="url(#g155)"/><rect x="625" y="516" width="139" height="3.6" fill="url(#g156)"/><rect x="628" y="519" width="137" height="3.6" fill="url(#g157)"/><rect x="630" y="522" width="136" height="3.6" fill="url(#g158)"/><rect x="632" y="525" width="134" height="3.6" fill="url(#g159)"/><rect x="634" y="528" width="133" height="3.6" fill="url(#g160)"/><rect x="636" y="531" width="132" height="3.6" fill="url(#g161)"/><rect x="638" y="534" width="131" height="3.6" fill="url(#g162)"/><rect x="640" y="537" width="130" height="3.6" fill="url(#g163)"/><rect x="642" y="540" width="128" height="3.6" fill="url(#g164)"/><rect x="644" y="543" width="127" height="3.6" fill="url(#g165)"/><rect x="645" y="546" width="127" height="3.6" fill="url(#g166)"/><rect x="647" y="549" width="126" height="3.6" fill="url(#g167)"/><rect x="649" y="552" width="125" height="3.6" fill="url(#g168)"/><rect x="651" y="555" width="123" height="3.6" fill="url(#g169)"/><rect x="654" y="558" width="121" height="3.6" fill="url(#g170)"/><rect x="657" y="561" width="119" height="3.6" fill="url(#g171)"/><rect x="659" y="564" width="118" height="3.6" fill="url(#g172)"/><rect x="662" y="567" width="116" height="3.6" fill="url(#g173)"/><rect x="665" y="570" width="114" height="3.6" fill="url(#g174)"/><rect x="667" y="573" width="112" height="3.6" fill="url(#g175)"/><rect x="670" y="576" width="110" height="3.6" fill="url(#g176)"/><rect x="673" y="579" width="108" height="3.6" fill="url(#g177)"/><rect x="674" y="582" width="107" height="3.6" fill="url(#g178)"/><rect x="674" y="585" width="107" height="3.6" fill="url(#g179)"/></g>
<polyline points="210.7,150.0 234.0,143.7 254.6,137.8 268.3,132.4 282.0,128.9 302.5,124.7 320.2,119.6 329.8,118.0 340.0,117.6 360.0,114.3 378.5,112.2 395.0,112.2 410.0,112.3 425.0,115.2 440.5,111.2 454.0,113.5 463.0,118.0 468.0,126.5 473.2,142.0 482.4,180.0 494.6,230.5 506.3,278.0 511.5,304.0 518.2,337.5 526.6,371.5 533.0,392.0 541.0,411.0 562.0,445.5 579.5,470.5 594.0,497.2 605.0,503.2 613.0,506.5 626.0,512.0 633.5,519.5 641.5,533.0 655.5,554.5 679.0,581.0" fill="none" stroke="#fe0000" stroke-width="8.4" stroke-linejoin="round" stroke-linecap="butt"/>
<path d="M174.4 658.0v-10.5 M174.4 24.0v10.5 M197.8 658.0v-10.5 M197.8 24.0v10.5 M221.2 658.0v-10.5 M221.2 24.0v10.5 M268.1 658.0v-10.5 M268.1 24.0v10.5 M291.5 658.0v-10.5 M291.5 24.0v10.5 M314.9 658.0v-10.5 M314.9 24.0v10.5 M361.7 658.0v-10.5 M361.7 24.0v10.5 M385.1 658.0v-10.5 M385.1 24.0v10.5 M408.5 658.0v-10.5 M408.5 24.0v10.5 M455.3 658.0v-10.5 M455.3 24.0v10.5 M478.8 658.0v-10.5 M478.8 24.0v10.5 M502.2 658.0v-10.5 M502.2 24.0v10.5 M549.0 658.0v-10.5 M549.0 24.0v10.5 M572.4 658.0v-10.5 M572.4 24.0v10.5 M595.8 658.0v-10.5 M595.8 24.0v10.5 M642.6 658.0v-10.5 M642.6 24.0v10.5 M666.0 658.0v-10.5 M666.0 24.0v10.5 M689.4 658.0v-10.5 M689.4 24.0v10.5 M736.3 658.0v-10.5 M736.3 24.0v10.5 M759.7 658.0v-10.5 M759.7 24.0v10.5 M783.1 658.0v-10.5 M783.1 24.0v10.5 M151.0 628.2h10.5 M806.5 628.2h-10.5 M151.0 598.3h10.5 M806.5 598.3h-10.5 M151.0 568.5h10.5 M806.5 568.5h-10.5 M151.0 538.6h10.5 M806.5 538.6h-10.5 M151.0 479.0h10.5 M806.5 479.0h-10.5 M151.0 449.1h10.5 M806.5 449.1h-10.5 M151.0 419.3h10.5 M806.5 419.3h-10.5 M151.0 389.4h10.5 M806.5 389.4h-10.5 M151.0 329.8h10.5 M806.5 329.8h-10.5 M151.0 299.9h10.5 M806.5 299.9h-10.5 M151.0 270.1h10.5 M806.5 270.1h-10.5 M151.0 240.2h10.5 M806.5 240.2h-10.5 M151.0 180.6h10.5 M806.5 180.6h-10.5 M151.0 150.7h10.5 M806.5 150.7h-10.5 M151.0 120.9h10.5 M806.5 120.9h-10.5 M151.0 91.0h10.5 M806.5 91.0h-10.5 M151.0 31.4h10.5 M806.5 31.4h-10.5" stroke="#000" stroke-width="2" fill="none"/>
<path d="M244.6 658.0v-21.5 M244.6 24.0v21.5 M338.3 658.0v-21.5 M338.3 24.0v21.5 M431.9 658.0v-21.5 M431.9 24.0v21.5 M525.6 658.0v-21.5 M525.6 24.0v21.5 M619.2 658.0v-21.5 M619.2 24.0v21.5 M712.9 658.0v-21.5 M712.9 24.0v21.5 M151.0 508.8h21.5 M806.5 508.8h-21.5 M151.0 359.6h21.5 M806.5 359.6h-21.5 M151.0 210.4h21.5 M806.5 210.4h-21.5 M151.0 61.2h21.5 M806.5 61.2h-21.5" stroke="#000" stroke-width="2.4" fill="none"/>
<rect x="151" y="24" width="655.5" height="634" fill="none" stroke="#000" stroke-width="2"/>
<path d="M446 455.5h58 M475.3 427v58" stroke="#000" stroke-width="2" fill="none"/>
<rect x="822.5" y="24" width="32.5" height="634" fill="url(#cb)" stroke="#000" stroke-width="1.7"/>
<path d="M822.5 552.3h14.5 M855.0 552.3h-14.5 M822.5 446.7h14.5 M855.0 446.7h-14.5 M822.5 341.0h14.5 M855.0 341.0h-14.5 M822.5 235.3h14.5 M855.0 235.3h-14.5 M822.5 129.7h14.5 M855.0 129.7h-14.5" stroke="#000" stroke-width="1.2" fill="none"/>
<defs><mask id="fm" maskUnits="userSpaceOnUse" x="0" y="0" width="1025" height="771"><rect width="1025" height="771" fill="#fff"/><rect x="146.31" y="708.41" width="9.11" height="6.29" fill="#000"/><rect x="160.59" y="708.41" width="8.76" height="6.29" fill="#000"/><rect x="71.91" y="71.71" width="9.11" height="6.29" fill="#000"/><rect x="86.18" y="71.71" width="8.76" height="6.29" fill="#000"/><rect x="921.87" y="139.21" width="9.11" height="6.29" fill="#000"/><rect x="936.14" y="139.21" width="8.75" height="6.29" fill="#000"/><rect x="921.87" y="33.41" width="9.11" height="6.29" fill="#000"/><rect x="936.14" y="33.41" width="8.75" height="6.29" fill="#000"/><rect x="471.91" y="238.91" width="9.11" height="6.29" fill="#000"/><rect x="486.18" y="238.91" width="8.75" height="6.29" fill="#000"/><rect x="481.41" y="279.26" width="9.11" height="6.29" fill="#000"/><rect x="495.68" y="279.26" width="8.75" height="6.29" fill="#000"/><rect x="489.91" y="327.11" width="9.11" height="6.29" fill="#000"/><rect x="504.18" y="327.11" width="8.75" height="6.29" fill="#000"/><rect x="511.71" y="405.71" width="9.11" height="6.29" fill="#000"/><rect x="525.98" y="405.71" width="8.75" height="6.29" fill="#000"/><rect x="541.11" y="460.11" width="9.11" height="6.29" fill="#000"/><rect x="555.38" y="460.11" width="8.75" height="6.29" fill="#000"/><rect x="570.71" y="506.31" width="9.11" height="6.29" fill="#000"/><rect x="584.98" y="506.31" width="8.75" height="6.29" fill="#000"/><rect x="621.51" y="550.16" width="9.11" height="6.29" fill="#000"/><rect x="635.78" y="550.16" width="8.75" height="6.29" fill="#000"/><rect x="648.49" y="550.16" width="9.11" height="6.29" fill="#000"/><rect x="662.76" y="550.16" width="8.75" height="6.29" fill="#000"/><rect x="657.61" y="591.11" width="9.11" height="6.29" fill="#000"/><rect x="671.88" y="591.11" width="8.75" height="6.29" fill="#000"/></mask></defs>
<g mask="url(#fm)" font-family="'Liberation Sans', Arial, Helvetica, sans-serif" font-size="46" fill="#000">
<g id="T"><text x="144.41" y="713.50">1</text><text x="238.05" y="713.50">2</text><text x="331.69" y="713.50">3</text><text x="425.34" y="713.50">4</text><text x="518.98" y="713.50">5</text><text x="612.62" y="713.50">6</text><text x="706.27" y="713.50">7</text><text x="799.91" y="713.50">8</text><text x="70.00 95.58 108.36" y="673.60">0.2</text><text x="70.00 95.58 108.36" y="524.40">0.4</text><text x="70.00 95.58 108.36" y="375.20">0.6</text><text x="70.00 95.58 108.36" y="226.00">0.8</text><text x="70.00 95.58 108.36" y="76.80">1.0</text><text x="881.60 907.18 919.96 945.55" y="673.30">0.00</text><text x="881.60 907.18 919.96 945.55" y="567.50">0.02</text><text x="881.60 907.18 919.96 945.55" y="461.70">0.04</text><text x="881.60 907.18 919.96 945.55" y="355.90">0.06</text><text x="881.60 907.18 919.96 945.55" y="250.10">0.08</text><text x="881.60 907.18 919.96 945.55" y="144.30">0.10</text><text x="881.60 907.18 919.96 945.55" y="38.50">0.12</text><text x="235.40" y="156.60">2</text><text x="274.60" y="143.90">3</text><text x="329.80" y="135.40">3</text><text x="389.60" y="124.65">4</text><text x="449.90" y="130.10">5</text><text x="470.00 495.58" y="244.00">14</text><text x="479.50 505.08" y="284.35">14</text><text x="488.00 513.58" y="332.20">15</text><text x="509.80 535.38" y="410.80">15</text><text x="539.20 564.78" y="465.20">14</text><text x="568.80 594.38" y="511.40">14</text><text x="619.60 646.58" y="555.25">11</text><text x="655.70 681.28" y="596.20">10</text><text transform="translate(429.45 754.8) scale(1.18 1)" font-size="42.5">α</text><text x="459.06 489.05 509.07" y="768.15" font-size="36">max</text><text transform="translate(52.05 0) rotate(-90)"><tspan x="-498.60 -471.70" y="0.00" font-size="46">&lt;j</tspan><tspan x="-461.50 -431.51 -411.49" y="14.00" font-size="36">max</tspan><tspan x="-390.70 -364.00 -354.80 -339.90 -305.20 -274.70" y="0.00" font-size="46">&gt; (MAm</tspan><tspan x="-231.00 -219.50" y="-25.00" font-size="35">-2</tspan><tspan x="-200.80" y="0.00" font-size="46">)</tspan></text><text transform="translate(1010.40 0) rotate(-90)"><tspan x="-384.50" y="0.00" font-size="42">γ</tspan><tspan x="-366.00" y="0.00" font-size="46">/</tspan><tspan x="-352.05" y="0.00" font-size="42">ω</tspan><tspan x="-321.10" y="15.00" font-size="38">A</tspan></text></g>
<use href="#T" x="0.45" y="0"/>
<use href="#T" x="-0.45" y="0"/>
<use href="#T" x="0" y="0.45"/>
<use href="#T" x="0" y="-0.45"/>
</g>
</svg></body></html>
